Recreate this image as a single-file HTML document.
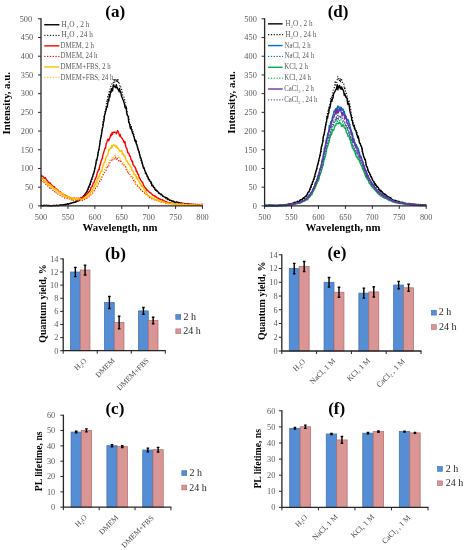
<!DOCTYPE html>
<html><head><meta charset="utf-8"><style>
html,body{margin:0;padding:0;background:#fff;}
svg{display:block;filter:blur(0.35px);}
text{font-family:"Liberation Serif", serif;}
</style></head><body>
<svg width="465" height="550" viewBox="0 0 465 550">
<rect width="465" height="550" fill="#fff"/>
<path d="M41.00,205.53 L41.54,205.46 L42.08,205.59 L42.62,205.73 L43.15,205.63 L43.69,205.75 L44.23,205.51 L44.77,205.22 L45.31,205.64 L45.84,205.67 L46.38,205.41 L46.92,205.44 L47.46,205.50 L48.00,205.74 L48.54,205.53 L49.08,205.37 L49.61,205.83 L50.15,205.63 L50.69,205.90 L51.23,205.82 L51.77,205.90 L52.30,205.58 L52.84,205.81 L53.38,205.45 L53.92,205.46 L54.46,205.52 L55.00,205.90 L55.53,205.56 L56.07,205.43 L56.61,205.36 L57.15,205.71 L57.69,205.44 L58.23,205.52 L58.77,205.45 L59.30,204.97 L59.84,205.37 L60.38,205.15 L60.92,204.89 L61.46,205.19 L62.00,205.04 L62.53,204.94 L63.07,204.90 L63.61,205.14 L64.15,204.75 L64.69,204.36 L65.22,204.96 L65.76,204.27 L66.30,204.34 L66.84,204.42 L67.38,203.65 L67.92,203.84 L68.45,204.21 L68.99,203.77 L69.53,203.51 L70.07,203.56 L70.61,203.20 L71.15,203.24 L71.69,202.89 L72.22,202.52 L72.76,202.90 L73.30,202.49 L73.84,202.48 L74.38,202.12 L74.91,202.28 L75.45,201.90 L75.99,201.57 L76.53,201.03 L77.07,200.70 L77.61,201.14 L78.15,200.72 L78.68,200.00 L79.22,200.47 L79.76,199.68 L80.30,199.22 L80.84,198.43 L81.38,198.20 L81.91,198.08 L82.45,197.59 L82.99,196.98 L83.53,195.76 L84.07,195.75 L84.60,194.98 L85.14,193.97 L85.68,193.33 L86.22,192.50 L86.76,191.93 L87.30,190.45 L87.84,189.48 L88.37,187.55 L88.91,186.44 L89.45,185.36 L89.99,183.58 L90.53,182.59 L91.06,180.33 L91.60,179.33 L92.14,177.38 L92.68,176.73 L93.22,173.92 L93.76,173.27 L94.30,171.52 L94.83,168.31 L95.37,166.57 L95.91,163.54 L96.45,159.58 L96.99,159.48 L97.53,156.77 L98.06,153.44 L98.60,150.46 L99.14,148.16 L99.68,145.10 L100.22,140.97 L100.75,137.80 L101.29,136.11 L101.83,131.78 L102.37,128.45 L102.91,126.70 L103.45,122.21 L103.98,120.73 L104.52,115.58 L105.06,113.85 L105.60,111.36 L106.14,109.80 L106.68,106.72 L107.22,107.05 L107.75,103.52 L108.29,99.13 L108.83,100.91 L109.37,94.58 L109.91,96.98 L110.44,91.48 L110.98,92.61 L111.52,88.80 L112.06,88.94 L112.60,90.93 L113.14,85.67 L113.67,84.72 L114.21,86.71 L114.75,86.73 L115.29,86.42 L115.83,87.88 L116.37,84.73 L116.91,87.88 L117.44,87.61 L117.98,89.44 L118.52,89.80 L119.06,91.63 L119.60,88.56 L120.14,92.03 L120.67,91.59 L121.21,94.48 L121.75,96.96 L122.29,97.78 L122.83,99.59 L123.36,100.26 L123.90,102.42 L124.44,103.97 L124.98,107.25 L125.52,108.23 L126.06,106.69 L126.59,112.00 L127.13,114.85 L127.67,115.49 L128.21,116.61 L128.75,122.56 L129.29,123.08 L129.82,125.42 L130.36,128.45 L130.90,127.15 L131.44,129.57 L131.98,130.96 L132.52,133.34 L133.06,133.48 L133.59,136.03 L134.13,137.12 L134.67,139.69 L135.21,141.39 L135.75,140.45 L136.28,143.89 L136.82,144.76 L137.36,146.74 L137.90,148.81 L138.44,150.60 L138.98,151.41 L139.51,154.12 L140.05,155.93 L140.59,157.71 L141.13,158.69 L141.67,160.85 L142.21,162.78 L142.75,165.15 L143.28,167.35 L143.82,167.33 L144.36,168.85 L144.90,171.00 L145.44,171.88 L145.97,172.97 L146.51,174.13 L147.05,175.22 L147.59,177.11 L148.13,177.05 L148.67,179.59 L149.20,179.41 L149.74,180.56 L150.28,181.27 L150.82,181.65 L151.36,182.71 L151.90,184.83 L152.44,185.88 L152.97,185.49 L153.51,187.10 L154.05,187.37 L154.59,187.71 L155.13,189.46 L155.67,190.28 L156.20,189.89 L156.74,190.54 L157.28,191.19 L157.82,191.58 L158.36,192.42 L158.89,193.13 L159.43,193.07 L159.97,193.80 L160.51,194.46 L161.05,194.08 L161.59,194.68 L162.12,194.90 L162.66,195.77 L163.20,196.03 L163.74,196.51 L164.28,196.84 L164.82,196.85 L165.36,197.54 L165.89,197.54 L166.43,197.91 L166.97,197.73 L167.51,199.15 L168.05,198.78 L168.58,199.39 L169.12,199.67 L169.66,200.38 L170.20,200.35 L170.74,200.23 L171.28,200.68 L171.81,200.83 L172.35,201.12 L172.89,200.88 L173.43,201.37 L173.97,202.13 L174.51,201.86 L175.04,202.34 L175.58,202.82 L176.12,202.21 L176.66,201.83 L177.20,202.29 L177.74,202.73 L178.28,202.78 L178.81,202.35 L179.35,202.71 L179.89,202.85 L180.43,202.99 L180.97,203.07 L181.50,202.98 L182.04,203.15 L182.58,203.34 L183.12,203.76 L183.66,203.46 L184.20,203.86 L184.74,203.50 L185.27,204.18 L185.81,203.98 L186.35,204.03 L186.89,204.43 L187.43,203.75 L187.97,203.88 L188.50,204.41 L189.04,204.17 L189.58,204.31 L190.12,205.08 L190.66,204.44 L191.19,204.56 L191.73,204.57 L192.27,204.89 L192.81,204.74 L193.35,204.76 L193.89,204.48 L194.43,204.72 L194.96,204.84 L195.50,204.52 L196.04,205.05 L196.58,205.04 L197.12,205.41 L197.66,204.64 L198.19,204.81 L198.73,204.85 L199.27,204.93 L199.81,205.08 L200.35,205.07 L200.88,205.19 L201.42,205.19 L201.96,205.14 L202.50,204.80" fill="none" stroke="#000" stroke-width="1.4" stroke-linejoin="round"/>
<path d="M41.00,205.38 L41.54,205.52 L42.08,205.64 L42.62,205.65 L43.15,205.14 L43.69,205.39 L44.23,205.49 L44.77,205.58 L45.31,205.76 L45.84,205.52 L46.38,205.30 L46.92,205.60 L47.46,205.56 L48.00,205.56 L48.54,205.48 L49.08,205.87 L49.61,205.56 L50.15,205.70 L50.69,205.30 L51.23,205.68 L51.77,205.37 L52.30,205.16 L52.84,205.58 L53.38,205.64 L53.92,205.46 L54.46,205.50 L55.00,205.72 L55.53,205.38 L56.07,205.01 L56.61,205.51 L57.15,205.48 L57.69,205.65 L58.23,205.31 L58.77,205.64 L59.30,205.57 L59.84,204.99 L60.38,205.46 L60.92,204.95 L61.46,204.81 L62.00,205.06 L62.53,204.94 L63.07,204.57 L63.61,205.02 L64.15,205.07 L64.69,205.20 L65.22,204.80 L65.76,204.37 L66.30,204.40 L66.84,204.75 L67.38,204.62 L67.92,204.42 L68.45,204.10 L68.99,204.10 L69.53,203.87 L70.07,203.72 L70.61,203.73 L71.15,203.52 L71.69,203.31 L72.22,203.22 L72.76,202.91 L73.30,202.37 L73.84,202.52 L74.38,202.47 L74.91,202.74 L75.45,201.97 L75.99,202.39 L76.53,202.02 L77.07,201.15 L77.61,200.94 L78.15,200.91 L78.68,201.08 L79.22,200.40 L79.76,200.18 L80.30,199.45 L80.84,198.60 L81.38,198.83 L81.91,198.74 L82.45,198.44 L82.99,197.60 L83.53,197.10 L84.07,196.81 L84.60,195.70 L85.14,195.41 L85.68,193.80 L86.22,192.96 L86.76,192.05 L87.30,191.71 L87.84,190.26 L88.37,189.36 L88.91,188.19 L89.45,186.79 L89.99,185.79 L90.53,184.34 L91.06,181.63 L91.60,180.49 L92.14,178.58 L92.68,176.41 L93.22,176.17 L93.76,173.66 L94.30,170.99 L94.83,168.67 L95.37,166.95 L95.91,163.60 L96.45,161.73 L96.99,160.27 L97.53,157.40 L98.06,153.18 L98.60,150.57 L99.14,149.76 L99.68,143.58 L100.22,140.89 L100.75,136.54 L101.29,134.72 L101.83,130.99 L102.37,128.38 L102.91,120.51 L103.45,120.53 L103.98,115.08 L104.52,114.87 L105.06,110.74 L105.60,110.36 L106.14,105.75 L106.68,101.08 L107.22,101.76 L107.75,95.67 L108.29,94.33 L108.83,94.23 L109.37,91.33 L109.91,89.45 L110.44,87.04 L110.98,86.25 L111.52,85.37 L112.06,83.42 L112.60,83.84 L113.14,83.53 L113.67,80.71 L114.21,78.54 L114.75,82.36 L115.29,79.56 L115.83,80.82 L116.37,81.71 L116.91,79.03 L117.44,82.00 L117.98,79.21 L118.52,83.81 L119.06,82.75 L119.60,84.96 L120.14,87.19 L120.67,86.45 L121.21,89.19 L121.75,89.47 L122.29,92.08 L122.83,95.34 L123.36,95.49 L123.90,97.04 L124.44,97.54 L124.98,102.28 L125.52,103.03 L126.06,107.64 L126.59,106.77 L127.13,111.86 L127.67,115.51 L128.21,115.76 L128.75,116.59 L129.29,121.94 L129.82,123.25 L130.36,124.58 L130.90,126.71 L131.44,126.56 L131.98,129.53 L132.52,131.02 L133.06,131.17 L133.59,134.31 L134.13,134.76 L134.67,138.01 L135.21,140.00 L135.75,142.38 L136.28,140.49 L136.82,144.47 L137.36,145.81 L137.90,147.99 L138.44,149.86 L138.98,152.06 L139.51,152.61 L140.05,157.15 L140.59,159.51 L141.13,160.92 L141.67,162.98 L142.21,163.24 L142.75,164.95 L143.28,167.87 L143.82,169.71 L144.36,170.46 L144.90,170.68 L145.44,174.61 L145.97,173.77 L146.51,175.92 L147.05,175.82 L147.59,178.13 L148.13,178.74 L148.67,180.41 L149.20,181.10 L149.74,180.82 L150.28,182.04 L150.82,183.55 L151.36,184.65 L151.90,185.98 L152.44,186.08 L152.97,186.70 L153.51,187.48 L154.05,188.20 L154.59,189.32 L155.13,189.50 L155.67,190.08 L156.20,190.10 L156.74,190.42 L157.28,191.74 L157.82,192.48 L158.36,192.69 L158.89,193.35 L159.43,193.84 L159.97,194.02 L160.51,194.80 L161.05,194.62 L161.59,195.29 L162.12,195.57 L162.66,196.12 L163.20,196.71 L163.74,197.18 L164.28,197.35 L164.82,197.84 L165.36,197.98 L165.89,198.42 L166.43,199.20 L166.97,199.10 L167.51,199.85 L168.05,199.93 L168.58,200.11 L169.12,200.87 L169.66,200.46 L170.20,200.64 L170.74,200.92 L171.28,201.18 L171.81,201.33 L172.35,201.66 L172.89,201.62 L173.43,201.84 L173.97,201.80 L174.51,202.29 L175.04,202.03 L175.58,202.18 L176.12,202.38 L176.66,202.58 L177.20,202.44 L177.74,203.14 L178.28,202.70 L178.81,202.88 L179.35,202.99 L179.89,203.07 L180.43,203.45 L180.97,203.46 L181.50,203.33 L182.04,203.49 L182.58,203.64 L183.12,204.17 L183.66,203.74 L184.20,203.67 L184.74,203.79 L185.27,204.06 L185.81,204.57 L186.35,204.02 L186.89,204.34 L187.43,204.97 L187.97,204.31 L188.50,204.82 L189.04,204.82 L189.58,204.71 L190.12,204.30 L190.66,204.74 L191.19,204.63 L191.73,204.33 L192.27,204.41 L192.81,204.85 L193.35,204.92 L193.89,205.20 L194.43,205.10 L194.96,204.87 L195.50,204.90 L196.04,205.00 L196.58,204.81 L197.12,205.25 L197.66,205.10 L198.19,204.93 L198.73,204.97 L199.27,204.86 L199.81,205.02 L200.35,205.18 L200.88,205.03 L201.42,205.35 L201.96,205.49 L202.50,204.97" fill="none" stroke="#000" stroke-width="1.2" stroke-linejoin="round" stroke-dasharray="0.2,2.6" stroke-linecap="round"/>
<path d="M41.00,175.25 L41.54,175.26 L42.08,176.71 L42.62,176.23 L43.15,176.69 L43.69,177.21 L44.23,178.42 L44.77,177.81 L45.31,177.67 L45.84,178.56 L46.38,179.73 L46.92,180.07 L47.46,180.33 L48.00,182.83 L48.54,182.11 L49.08,182.41 L49.61,182.94 L50.15,182.99 L50.69,183.79 L51.23,184.69 L51.77,185.19 L52.30,185.45 L52.84,186.54 L53.38,186.77 L53.92,186.81 L54.46,186.80 L55.00,188.18 L55.53,188.56 L56.07,188.88 L56.61,188.82 L57.15,189.82 L57.69,189.62 L58.23,191.04 L58.77,191.14 L59.30,191.57 L59.84,191.60 L60.38,191.92 L60.92,193.31 L61.46,193.48 L62.00,193.40 L62.53,194.14 L63.07,194.82 L63.61,194.24 L64.15,194.76 L64.69,195.07 L65.22,195.70 L65.76,195.44 L66.30,196.13 L66.84,195.93 L67.38,196.87 L67.92,197.11 L68.45,197.01 L68.99,197.56 L69.53,197.35 L70.07,197.71 L70.61,198.30 L71.15,198.17 L71.69,198.47 L72.22,198.22 L72.76,198.83 L73.30,198.85 L73.84,198.40 L74.38,198.10 L74.91,198.16 L75.45,198.74 L75.99,198.65 L76.53,198.18 L77.07,198.63 L77.61,198.81 L78.15,198.37 L78.68,198.16 L79.22,198.46 L79.76,198.60 L80.30,198.40 L80.84,197.59 L81.38,197.91 L81.91,197.55 L82.45,197.21 L82.99,196.81 L83.53,196.82 L84.07,196.18 L84.60,196.27 L85.14,195.67 L85.68,195.45 L86.22,194.19 L86.76,194.10 L87.30,193.83 L87.84,193.13 L88.37,192.51 L88.91,191.53 L89.45,191.72 L89.99,190.70 L90.53,189.55 L91.06,187.34 L91.60,186.99 L92.14,186.40 L92.68,184.89 L93.22,183.07 L93.76,183.00 L94.30,181.87 L94.83,179.81 L95.37,178.90 L95.91,177.42 L96.45,176.62 L96.99,173.64 L97.53,172.14 L98.06,171.19 L98.60,169.42 L99.14,169.54 L99.68,166.01 L100.22,164.88 L100.75,162.64 L101.29,160.54 L101.83,159.35 L102.37,158.43 L102.91,154.72 L103.45,153.66 L103.98,151.38 L104.52,149.80 L105.06,147.87 L105.60,148.21 L106.14,143.50 L106.68,143.15 L107.22,141.12 L107.75,139.11 L108.29,139.98 L108.83,140.77 L109.37,138.69 L109.91,137.80 L110.44,135.86 L110.98,134.17 L111.52,135.61 L112.06,132.55 L112.60,134.33 L113.14,132.09 L113.67,132.33 L114.21,132.39 L114.75,132.00 L115.29,132.44 L115.83,132.49 L116.37,133.79 L116.91,132.25 L117.44,130.64 L117.98,131.08 L118.52,132.47 L119.06,133.83 L119.60,136.00 L120.14,134.39 L120.67,136.60 L121.21,137.25 L121.75,138.15 L122.29,138.47 L122.83,139.79 L123.36,140.29 L123.90,142.25 L124.44,142.71 L124.98,141.57 L125.52,145.46 L126.06,147.28 L126.59,148.19 L127.13,149.51 L127.67,152.45 L128.21,152.92 L128.75,153.20 L129.29,154.96 L129.82,156.27 L130.36,156.31 L130.90,159.29 L131.44,159.89 L131.98,161.54 L132.52,161.21 L133.06,164.93 L133.59,165.15 L134.13,166.20 L134.67,166.52 L135.21,167.72 L135.75,168.34 L136.28,171.43 L136.82,171.05 L137.36,172.83 L137.90,174.16 L138.44,174.52 L138.98,176.48 L139.51,178.24 L140.05,178.39 L140.59,180.12 L141.13,180.76 L141.67,181.30 L142.21,182.38 L142.75,182.74 L143.28,184.56 L143.82,186.04 L144.36,186.48 L144.90,187.33 L145.44,188.21 L145.97,188.21 L146.51,189.38 L147.05,190.59 L147.59,190.11 L148.13,191.04 L148.67,191.40 L149.20,192.01 L149.74,192.29 L150.28,192.97 L150.82,192.96 L151.36,193.68 L151.90,194.10 L152.44,194.48 L152.97,195.51 L153.51,195.41 L154.05,195.78 L154.59,195.96 L155.13,196.82 L155.67,196.13 L156.20,196.95 L156.74,197.69 L157.28,198.15 L157.82,197.99 L158.36,198.23 L158.89,198.72 L159.43,198.76 L159.97,199.27 L160.51,199.19 L161.05,199.84 L161.59,199.90 L162.12,199.85 L162.66,199.64 L163.20,200.91 L163.74,200.97 L164.28,201.28 L164.82,201.01 L165.36,201.73 L165.89,201.71 L166.43,201.75 L166.97,202.18 L167.51,202.33 L168.05,202.36 L168.58,202.95 L169.12,202.92 L169.66,202.79 L170.20,202.78 L170.74,203.00 L171.28,203.53 L171.81,203.31 L172.35,203.09 L172.89,203.25 L173.43,203.49 L173.97,203.77 L174.51,203.45 L175.04,203.80 L175.58,203.99 L176.12,203.93 L176.66,203.40 L177.20,203.74 L177.74,203.54 L178.28,203.98 L178.81,203.66 L179.35,204.07 L179.89,203.98 L180.43,203.35 L180.97,203.80 L181.50,204.13 L182.04,204.05 L182.58,203.97 L183.12,203.77 L183.66,204.21 L184.20,204.54 L184.74,204.19 L185.27,204.14 L185.81,204.13 L186.35,203.85 L186.89,204.11 L187.43,204.01 L187.97,204.49 L188.50,204.02 L189.04,203.74 L189.58,204.08 L190.12,204.23 L190.66,204.27 L191.19,203.89 L191.73,204.57 L192.27,204.39 L192.81,204.27 L193.35,204.22 L193.89,204.53 L194.43,204.37 L194.96,204.54 L195.50,204.46 L196.04,204.55 L196.58,204.81 L197.12,204.56 L197.66,204.37 L198.19,204.83 L198.73,204.68 L199.27,204.49 L199.81,204.92 L200.35,204.65 L200.88,204.96 L201.42,204.46 L201.96,204.20 L202.50,204.30" fill="none" stroke="#FF0000" stroke-width="1.4" stroke-linejoin="round"/>
<path d="M41.00,180.57 L41.54,180.53 L42.08,181.31 L42.62,181.77 L43.15,181.49 L43.69,183.39 L44.23,182.65 L44.77,183.65 L45.31,183.38 L45.84,184.41 L46.38,185.26 L46.92,185.25 L47.46,185.47 L48.00,186.22 L48.54,186.45 L49.08,187.33 L49.61,188.47 L50.15,187.54 L50.69,188.05 L51.23,188.72 L51.77,189.17 L52.30,189.18 L52.84,190.22 L53.38,190.74 L53.92,190.93 L54.46,190.78 L55.00,192.21 L55.53,191.58 L56.07,192.68 L56.61,193.23 L57.15,192.70 L57.69,193.58 L58.23,194.40 L58.77,194.43 L59.30,194.35 L59.84,194.64 L60.38,195.59 L60.92,195.67 L61.46,195.93 L62.00,196.75 L62.53,196.75 L63.07,197.19 L63.61,197.66 L64.15,197.92 L64.69,197.98 L65.22,198.22 L65.76,198.59 L66.30,198.72 L66.84,198.41 L67.38,198.86 L67.92,198.83 L68.45,198.89 L68.99,199.23 L69.53,198.88 L70.07,199.94 L70.61,199.58 L71.15,200.03 L71.69,199.49 L72.22,199.62 L72.76,200.77 L73.30,200.53 L73.84,200.08 L74.38,200.06 L74.91,200.07 L75.45,200.31 L75.99,200.15 L76.53,200.10 L77.07,200.31 L77.61,199.99 L78.15,200.95 L78.68,200.10 L79.22,200.59 L79.76,200.01 L80.30,200.35 L80.84,200.55 L81.38,200.18 L81.91,200.53 L82.45,200.45 L82.99,200.52 L83.53,199.91 L84.07,199.55 L84.60,199.16 L85.14,199.25 L85.68,198.60 L86.22,198.61 L86.76,198.33 L87.30,197.79 L87.84,197.29 L88.37,197.41 L88.91,197.00 L89.45,196.53 L89.99,195.95 L90.53,195.74 L91.06,194.45 L91.60,194.32 L92.14,193.32 L92.68,193.10 L93.22,191.92 L93.76,191.16 L94.30,190.74 L94.83,188.97 L95.37,188.87 L95.91,187.41 L96.45,186.88 L96.99,186.68 L97.53,185.61 L98.06,184.24 L98.60,183.42 L99.14,182.43 L99.68,181.60 L100.22,181.41 L100.75,179.57 L101.29,179.63 L101.83,177.12 L102.37,176.67 L102.91,175.59 L103.45,174.21 L103.98,172.84 L104.52,172.86 L105.06,172.07 L105.60,170.68 L106.14,170.38 L106.68,168.69 L107.22,165.95 L107.75,166.82 L108.29,164.67 L108.83,165.23 L109.37,163.17 L109.91,162.86 L110.44,161.99 L110.98,160.94 L111.52,159.50 L112.06,160.17 L112.60,159.72 L113.14,160.12 L113.67,158.50 L114.21,158.85 L114.75,157.79 L115.29,158.41 L115.83,157.06 L116.37,160.18 L116.91,159.11 L117.44,158.52 L117.98,159.88 L118.52,160.66 L119.06,160.70 L119.60,161.99 L120.14,161.28 L120.67,159.96 L121.21,161.40 L121.75,163.57 L122.29,163.92 L122.83,164.14 L123.36,163.73 L123.90,165.70 L124.44,166.37 L124.98,166.18 L125.52,167.19 L126.06,169.06 L126.59,170.54 L127.13,171.73 L127.67,172.02 L128.21,173.80 L128.75,172.75 L129.29,174.39 L129.82,174.50 L130.36,174.46 L130.90,175.66 L131.44,177.76 L131.98,177.36 L132.52,177.95 L133.06,179.73 L133.59,180.57 L134.13,180.87 L134.67,182.40 L135.21,181.63 L135.75,184.41 L136.28,184.61 L136.82,185.05 L137.36,185.84 L137.90,186.43 L138.44,187.07 L138.98,187.91 L139.51,187.90 L140.05,189.86 L140.59,189.47 L141.13,190.28 L141.67,190.42 L142.21,190.87 L142.75,191.81 L143.28,192.18 L143.82,192.12 L144.36,192.81 L144.90,193.73 L145.44,193.27 L145.97,193.72 L146.51,195.60 L147.05,195.49 L147.59,195.22 L148.13,196.26 L148.67,196.86 L149.20,197.36 L149.74,197.79 L150.28,197.99 L150.82,198.38 L151.36,198.25 L151.90,198.87 L152.44,199.14 L152.97,199.61 L153.51,199.48 L154.05,199.95 L154.59,199.95 L155.13,199.79 L155.67,200.19 L156.20,200.33 L156.74,200.56 L157.28,200.82 L157.82,201.05 L158.36,201.27 L158.89,201.14 L159.43,201.81 L159.97,201.30 L160.51,201.82 L161.05,202.18 L161.59,202.25 L162.12,202.43 L162.66,202.34 L163.20,202.69 L163.74,202.31 L164.28,202.93 L164.82,203.41 L165.36,203.10 L165.89,203.51 L166.43,203.08 L166.97,202.87 L167.51,203.06 L168.05,203.64 L168.58,203.56 L169.12,202.98 L169.66,203.41 L170.20,203.55 L170.74,203.35 L171.28,203.05 L171.81,203.40 L172.35,203.74 L172.89,203.74 L173.43,203.72 L173.97,204.07 L174.51,204.22 L175.04,203.98 L175.58,204.26 L176.12,204.08 L176.66,204.07 L177.20,203.56 L177.74,204.38 L178.28,204.23 L178.81,204.28 L179.35,204.16 L179.89,204.05 L180.43,204.46 L180.97,204.57 L181.50,204.80 L182.04,204.66 L182.58,204.34 L183.12,204.49 L183.66,204.77 L184.20,204.65 L184.74,204.58 L185.27,204.50 L185.81,204.79 L186.35,204.74 L186.89,205.14 L187.43,205.01 L187.97,204.37 L188.50,205.30 L189.04,204.89 L189.58,204.78 L190.12,204.95 L190.66,205.07 L191.19,204.92 L191.73,204.93 L192.27,204.96 L192.81,205.41 L193.35,205.02 L193.89,205.20 L194.43,205.15 L194.96,204.98 L195.50,204.90 L196.04,204.85 L196.58,205.19 L197.12,204.87 L197.66,204.83 L198.19,204.85 L198.73,204.80 L199.27,205.16 L199.81,205.18 L200.35,204.95 L200.88,205.47 L201.42,205.10 L201.96,205.27 L202.50,205.24" fill="none" stroke="#FF0000" stroke-width="1.2" stroke-linejoin="round" stroke-dasharray="0.2,2.6" stroke-linecap="round"/>
<path d="M41.00,178.81 L41.54,178.79 L42.08,178.76 L42.62,178.72 L43.15,179.13 L43.69,180.15 L44.23,180.66 L44.77,181.44 L45.31,181.24 L45.84,182.01 L46.38,182.01 L46.92,181.88 L47.46,183.21 L48.00,184.36 L48.54,184.47 L49.08,185.18 L49.61,185.47 L50.15,184.70 L50.69,185.63 L51.23,186.86 L51.77,186.28 L52.30,186.43 L52.84,187.57 L53.38,188.13 L53.92,188.38 L54.46,188.52 L55.00,188.76 L55.53,188.93 L56.07,189.31 L56.61,189.70 L57.15,190.00 L57.69,190.65 L58.23,191.90 L58.77,191.70 L59.30,191.89 L59.84,192.52 L60.38,192.38 L60.92,193.22 L61.46,193.77 L62.00,193.23 L62.53,193.85 L63.07,194.33 L63.61,194.38 L64.15,194.63 L64.69,195.17 L65.22,196.41 L65.76,196.03 L66.30,196.19 L66.84,196.61 L67.38,196.46 L67.92,196.37 L68.45,197.16 L68.99,197.61 L69.53,196.80 L70.07,197.82 L70.61,198.27 L71.15,197.99 L71.69,198.10 L72.22,198.61 L72.76,198.28 L73.30,198.79 L73.84,199.01 L74.38,198.73 L74.91,198.60 L75.45,199.08 L75.99,198.83 L76.53,199.00 L77.07,198.14 L77.61,199.26 L78.15,198.65 L78.68,199.11 L79.22,199.16 L79.76,198.92 L80.30,198.88 L80.84,198.77 L81.38,199.06 L81.91,199.32 L82.45,199.20 L82.99,198.73 L83.53,198.51 L84.07,198.00 L84.60,198.02 L85.14,197.49 L85.68,196.98 L86.22,197.04 L86.76,197.19 L87.30,196.68 L87.84,196.35 L88.37,194.86 L88.91,195.24 L89.45,193.90 L89.99,193.46 L90.53,192.27 L91.06,191.70 L91.60,191.25 L92.14,190.37 L92.68,189.29 L93.22,188.26 L93.76,187.57 L94.30,186.34 L94.83,184.56 L95.37,185.12 L95.91,183.08 L96.45,182.54 L96.99,180.81 L97.53,179.24 L98.06,178.49 L98.60,176.75 L99.14,176.84 L99.68,173.97 L100.22,173.72 L100.75,171.64 L101.29,170.57 L101.83,171.03 L102.37,168.43 L102.91,166.34 L103.45,163.96 L103.98,163.44 L104.52,162.05 L105.06,161.94 L105.60,158.38 L106.14,156.68 L106.68,156.67 L107.22,155.47 L107.75,155.31 L108.29,151.94 L108.83,149.27 L109.37,150.01 L109.91,148.48 L110.44,148.12 L110.98,148.59 L111.52,145.62 L112.06,147.39 L112.60,146.00 L113.14,145.39 L113.67,144.83 L114.21,145.31 L114.75,145.39 L115.29,146.55 L115.83,147.14 L116.37,145.97 L116.91,146.92 L117.44,147.91 L117.98,148.45 L118.52,148.41 L119.06,150.39 L119.60,150.66 L120.14,151.61 L120.67,150.65 L121.21,151.16 L121.75,150.50 L122.29,154.28 L122.83,154.34 L123.36,153.79 L123.90,155.56 L124.44,156.52 L124.98,155.79 L125.52,158.39 L126.06,160.00 L126.59,161.08 L127.13,160.74 L127.67,161.68 L128.21,163.83 L128.75,164.44 L129.29,164.23 L129.82,165.11 L130.36,166.88 L130.90,166.93 L131.44,167.91 L131.98,170.44 L132.52,170.42 L133.06,170.92 L133.59,172.52 L134.13,174.45 L134.67,174.26 L135.21,174.62 L135.75,175.13 L136.28,178.30 L136.82,176.57 L137.36,179.61 L137.90,179.42 L138.44,180.18 L138.98,181.18 L139.51,182.44 L140.05,183.90 L140.59,183.81 L141.13,185.23 L141.67,186.83 L142.21,185.11 L142.75,186.85 L143.28,187.12 L143.82,189.08 L144.36,188.86 L144.90,189.66 L145.44,190.55 L145.97,192.05 L146.51,193.34 L147.05,193.76 L147.59,195.24 L148.13,195.72 L148.67,195.67 L149.20,196.51 L149.74,196.62 L150.28,196.96 L150.82,196.63 L151.36,197.15 L151.90,197.88 L152.44,197.75 L152.97,198.64 L153.51,198.74 L154.05,198.58 L154.59,199.46 L155.13,199.38 L155.67,199.90 L156.20,199.67 L156.74,199.43 L157.28,200.34 L157.82,200.25 L158.36,200.77 L158.89,201.03 L159.43,201.24 L159.97,200.66 L160.51,200.58 L161.05,201.28 L161.59,201.78 L162.12,201.55 L162.66,201.98 L163.20,201.82 L163.74,202.09 L164.28,202.22 L164.82,202.26 L165.36,202.69 L165.89,202.75 L166.43,203.19 L166.97,202.96 L167.51,203.32 L168.05,203.08 L168.58,203.38 L169.12,203.20 L169.66,203.20 L170.20,203.77 L170.74,203.69 L171.28,203.80 L171.81,203.45 L172.35,203.28 L172.89,203.56 L173.43,203.92 L173.97,203.53 L174.51,204.32 L175.04,203.62 L175.58,204.19 L176.12,204.75 L176.66,203.45 L177.20,203.75 L177.74,204.43 L178.28,204.17 L178.81,204.30 L179.35,204.26 L179.89,204.68 L180.43,204.52 L180.97,204.28 L181.50,204.37 L182.04,204.17 L182.58,204.47 L183.12,203.95 L183.66,204.72 L184.20,204.52 L184.74,205.07 L185.27,204.94 L185.81,204.35 L186.35,204.92 L186.89,204.60 L187.43,204.77 L187.97,205.03 L188.50,204.89 L189.04,204.95 L189.58,204.97 L190.12,204.70 L190.66,204.74 L191.19,205.06 L191.73,205.15 L192.27,204.89 L192.81,205.00 L193.35,204.75 L193.89,204.39 L194.43,204.83 L194.96,205.05 L195.50,205.10 L196.04,205.27 L196.58,205.30 L197.12,205.33 L197.66,205.20 L198.19,205.22 L198.73,204.95 L199.27,205.22 L199.81,205.18 L200.35,205.43 L200.88,204.76 L201.42,205.03 L201.96,204.73 L202.50,204.97" fill="none" stroke="#FFC000" stroke-width="1.4" stroke-linejoin="round"/>
<path d="M41.00,178.14 L41.54,179.59 L42.08,179.56 L42.62,178.99 L43.15,181.55 L43.69,180.78 L44.23,180.99 L44.77,182.12 L45.31,182.41 L45.84,182.62 L46.38,184.05 L46.92,183.97 L47.46,185.05 L48.00,185.40 L48.54,185.81 L49.08,186.02 L49.61,186.32 L50.15,186.61 L50.69,187.89 L51.23,186.77 L51.77,187.57 L52.30,188.19 L52.84,189.09 L53.38,189.38 L53.92,189.51 L54.46,189.97 L55.00,191.25 L55.53,190.62 L56.07,190.12 L56.61,192.44 L57.15,191.66 L57.69,192.27 L58.23,192.83 L58.77,192.63 L59.30,193.98 L59.84,193.83 L60.38,193.71 L60.92,194.69 L61.46,195.12 L62.00,195.26 L62.53,195.79 L63.07,195.41 L63.61,196.57 L64.15,196.24 L64.69,197.24 L65.22,196.84 L65.76,197.33 L66.30,198.38 L66.84,197.74 L67.38,198.32 L67.92,198.34 L68.45,197.92 L68.99,198.99 L69.53,199.18 L70.07,198.59 L70.61,199.19 L71.15,198.91 L71.69,199.44 L72.22,199.94 L72.76,199.79 L73.30,199.47 L73.84,199.61 L74.38,199.91 L74.91,199.90 L75.45,199.95 L75.99,200.09 L76.53,199.32 L77.07,199.91 L77.61,200.26 L78.15,200.06 L78.68,199.69 L79.22,199.72 L79.76,199.95 L80.30,200.12 L80.84,199.91 L81.38,200.42 L81.91,200.28 L82.45,199.55 L82.99,199.81 L83.53,199.36 L84.07,198.87 L84.60,198.78 L85.14,198.69 L85.68,197.68 L86.22,197.81 L86.76,197.79 L87.30,197.05 L87.84,196.78 L88.37,196.84 L88.91,196.10 L89.45,195.69 L89.99,195.79 L90.53,194.52 L91.06,193.90 L91.60,193.25 L92.14,192.98 L92.68,191.69 L93.22,190.77 L93.76,189.90 L94.30,189.62 L94.83,188.03 L95.37,188.03 L95.91,186.70 L96.45,185.04 L96.99,185.05 L97.53,183.98 L98.06,182.15 L98.60,181.89 L99.14,180.81 L99.68,179.49 L100.22,177.99 L100.75,178.81 L101.29,176.94 L101.83,175.95 L102.37,174.88 L102.91,173.62 L103.45,172.49 L103.98,170.64 L104.52,170.36 L105.06,168.64 L105.60,167.45 L106.14,167.27 L106.68,165.66 L107.22,163.55 L107.75,163.53 L108.29,163.30 L108.83,161.95 L109.37,161.78 L109.91,160.10 L110.44,158.97 L110.98,159.78 L111.52,158.82 L112.06,157.28 L112.60,158.16 L113.14,157.19 L113.67,157.85 L114.21,157.42 L114.75,156.99 L115.29,154.73 L115.83,156.89 L116.37,157.13 L116.91,157.38 L117.44,157.34 L117.98,157.02 L118.52,157.77 L119.06,156.68 L119.60,158.55 L120.14,157.99 L120.67,159.34 L121.21,159.58 L121.75,161.71 L122.29,161.30 L122.83,161.90 L123.36,162.71 L123.90,164.83 L124.44,163.40 L124.98,165.22 L125.52,166.23 L126.06,167.10 L126.59,168.07 L127.13,168.58 L127.67,170.58 L128.21,171.22 L128.75,171.29 L129.29,172.24 L129.82,173.41 L130.36,174.36 L130.90,175.34 L131.44,175.70 L131.98,175.79 L132.52,177.87 L133.06,177.22 L133.59,178.40 L134.13,179.90 L134.67,180.04 L135.21,182.04 L135.75,183.00 L136.28,183.60 L136.82,183.99 L137.36,184.76 L137.90,185.61 L138.44,186.02 L138.98,187.69 L139.51,187.12 L140.05,188.56 L140.59,188.79 L141.13,189.23 L141.67,190.08 L142.21,190.69 L142.75,191.05 L143.28,191.17 L143.82,191.45 L144.36,191.99 L144.90,193.12 L145.44,193.57 L145.97,194.15 L146.51,194.16 L147.05,195.56 L147.59,194.87 L148.13,195.92 L148.67,196.44 L149.20,196.43 L149.74,196.55 L150.28,197.11 L150.82,197.20 L151.36,197.81 L151.90,197.76 L152.44,198.04 L152.97,198.74 L153.51,198.52 L154.05,199.17 L154.59,199.43 L155.13,199.95 L155.67,199.98 L156.20,199.87 L156.74,200.67 L157.28,200.28 L157.82,200.54 L158.36,200.74 L158.89,201.60 L159.43,201.17 L159.97,201.11 L160.51,201.65 L161.05,201.55 L161.59,202.37 L162.12,201.66 L162.66,202.15 L163.20,201.86 L163.74,202.70 L164.28,202.14 L164.82,202.49 L165.36,202.32 L165.89,202.88 L166.43,202.90 L166.97,202.25 L167.51,203.15 L168.05,203.21 L168.58,203.19 L169.12,203.48 L169.66,203.00 L170.20,202.95 L170.74,203.65 L171.28,203.99 L171.81,203.33 L172.35,203.42 L172.89,203.56 L173.43,203.54 L173.97,204.10 L174.51,203.98 L175.04,204.33 L175.58,204.38 L176.12,203.83 L176.66,204.27 L177.20,203.58 L177.74,204.16 L178.28,204.37 L178.81,204.06 L179.35,203.85 L179.89,204.20 L180.43,204.65 L180.97,204.30 L181.50,204.09 L182.04,204.58 L182.58,204.68 L183.12,204.28 L183.66,204.52 L184.20,204.85 L184.74,204.70 L185.27,204.82 L185.81,204.60 L186.35,204.67 L186.89,204.45 L187.43,204.58 L187.97,205.15 L188.50,204.71 L189.04,204.62 L189.58,204.74 L190.12,204.63 L190.66,205.03 L191.19,205.14 L191.73,204.72 L192.27,205.21 L192.81,205.49 L193.35,204.75 L193.89,205.18 L194.43,205.10 L194.96,205.37 L195.50,205.37 L196.04,205.34 L196.58,205.17 L197.12,205.01 L197.66,205.64 L198.19,204.94 L198.73,205.40 L199.27,205.38 L199.81,204.98 L200.35,205.16 L200.88,205.51 L201.42,204.72 L201.96,205.35 L202.50,205.09" fill="none" stroke="#FFC000" stroke-width="1.2" stroke-linejoin="round" stroke-dasharray="0.2,2.6" stroke-linecap="round"/>
<path d="M41.00,18.30 V205.90 H203.00" fill="none" stroke="#262626" stroke-width="1.3"/>
<line x1="38.00" y1="205.90" x2="41.00" y2="205.90" stroke="#262626" stroke-width="1"/>
<text x="33.20" y="208.70" font-size="8.3" font-weight="normal" fill="#595959" text-anchor="end">0</text>
<line x1="38.00" y1="187.19" x2="41.00" y2="187.19" stroke="#262626" stroke-width="1"/>
<text x="33.20" y="189.99" font-size="8.3" font-weight="normal" fill="#595959" text-anchor="end">50</text>
<line x1="38.00" y1="168.48" x2="41.00" y2="168.48" stroke="#262626" stroke-width="1"/>
<text x="33.20" y="171.28" font-size="8.3" font-weight="normal" fill="#595959" text-anchor="end">100</text>
<line x1="38.00" y1="149.77" x2="41.00" y2="149.77" stroke="#262626" stroke-width="1"/>
<text x="33.20" y="152.57" font-size="8.3" font-weight="normal" fill="#595959" text-anchor="end">150</text>
<line x1="38.00" y1="131.06" x2="41.00" y2="131.06" stroke="#262626" stroke-width="1"/>
<text x="33.20" y="133.86" font-size="8.3" font-weight="normal" fill="#595959" text-anchor="end">200</text>
<line x1="38.00" y1="112.35" x2="41.00" y2="112.35" stroke="#262626" stroke-width="1"/>
<text x="33.20" y="115.15" font-size="8.3" font-weight="normal" fill="#595959" text-anchor="end">250</text>
<line x1="38.00" y1="93.64" x2="41.00" y2="93.64" stroke="#262626" stroke-width="1"/>
<text x="33.20" y="96.44" font-size="8.3" font-weight="normal" fill="#595959" text-anchor="end">300</text>
<line x1="38.00" y1="74.93" x2="41.00" y2="74.93" stroke="#262626" stroke-width="1"/>
<text x="33.20" y="77.73" font-size="8.3" font-weight="normal" fill="#595959" text-anchor="end">350</text>
<line x1="38.00" y1="56.22" x2="41.00" y2="56.22" stroke="#262626" stroke-width="1"/>
<text x="33.20" y="59.02" font-size="8.3" font-weight="normal" fill="#595959" text-anchor="end">400</text>
<line x1="38.00" y1="37.51" x2="41.00" y2="37.51" stroke="#262626" stroke-width="1"/>
<text x="33.20" y="40.31" font-size="8.3" font-weight="normal" fill="#595959" text-anchor="end">450</text>
<line x1="38.00" y1="18.80" x2="41.00" y2="18.80" stroke="#262626" stroke-width="1"/>
<text x="32.10" y="21.80" font-size="8.3" font-weight="normal" fill="#595959" text-anchor="end">500</text>
<line x1="41.00" y1="205.90" x2="41.00" y2="208.90" stroke="#262626" stroke-width="1"/>
<text x="41.00" y="219.50" font-size="8.3" font-weight="normal" fill="#595959" text-anchor="middle">500</text>
<line x1="67.92" y1="205.90" x2="67.92" y2="208.90" stroke="#262626" stroke-width="1"/>
<text x="67.92" y="219.50" font-size="8.3" font-weight="normal" fill="#595959" text-anchor="middle">550</text>
<line x1="94.83" y1="205.90" x2="94.83" y2="208.90" stroke="#262626" stroke-width="1"/>
<text x="94.83" y="219.50" font-size="8.3" font-weight="normal" fill="#595959" text-anchor="middle">600</text>
<line x1="121.75" y1="205.90" x2="121.75" y2="208.90" stroke="#262626" stroke-width="1"/>
<text x="121.75" y="219.50" font-size="8.3" font-weight="normal" fill="#595959" text-anchor="middle">650</text>
<line x1="148.67" y1="205.90" x2="148.67" y2="208.90" stroke="#262626" stroke-width="1"/>
<text x="148.67" y="219.50" font-size="8.3" font-weight="normal" fill="#595959" text-anchor="middle">700</text>
<line x1="175.58" y1="205.90" x2="175.58" y2="208.90" stroke="#262626" stroke-width="1"/>
<text x="175.58" y="219.50" font-size="8.3" font-weight="normal" fill="#595959" text-anchor="middle">750</text>
<line x1="202.50" y1="205.90" x2="202.50" y2="208.90" stroke="#262626" stroke-width="1"/>
<text x="202.50" y="219.50" font-size="8.3" font-weight="normal" fill="#595959" text-anchor="middle">800</text>
<line x1="44.20" y1="24.75" x2="59.40" y2="24.75" stroke="#000" stroke-width="1.4"/>
<text x="61.60" y="26.80" font-size="7.5" font-weight="normal" fill="#595959" text-anchor="start" textLength="27.7" lengthAdjust="spacingAndGlyphs">H<tspan font-size="5" dy="1.8">2</tspan><tspan dy="-1.8">O , </tspan>2 h</text>
<line x1="44.80" y1="35.31" x2="59.40" y2="35.31" stroke="#000" stroke-width="1.2" stroke-dasharray="0.2,2.6" stroke-linecap="round"/>
<text x="61.60" y="37.36" font-size="7.5" font-weight="normal" fill="#595959" text-anchor="start" textLength="31.2" lengthAdjust="spacingAndGlyphs">H<tspan font-size="5" dy="1.8">2</tspan><tspan dy="-1.8">O , </tspan>24 h</text>
<line x1="44.20" y1="45.87" x2="59.40" y2="45.87" stroke="#FF0000" stroke-width="1.4"/>
<text x="60.60" y="47.92" font-size="7.5" font-weight="normal" fill="#595959" text-anchor="start" textLength="33.3" lengthAdjust="spacingAndGlyphs">DMEM, 2 h</text>
<line x1="44.80" y1="56.43" x2="59.40" y2="56.43" stroke="#FF0000" stroke-width="1.2" stroke-dasharray="0.2,2.6" stroke-linecap="round"/>
<text x="60.60" y="58.48" font-size="7.5" font-weight="normal" fill="#595959" text-anchor="start" textLength="36.9" lengthAdjust="spacingAndGlyphs">DMEM, 24 h</text>
<line x1="44.20" y1="66.99" x2="59.40" y2="66.99" stroke="#FFC000" stroke-width="1.4"/>
<text x="60.60" y="69.04" font-size="7.5" font-weight="normal" fill="#595959" text-anchor="start" textLength="50.1" lengthAdjust="spacingAndGlyphs">DMEM+FBS, 2 h</text>
<line x1="44.80" y1="77.55" x2="59.40" y2="77.55" stroke="#FFC000" stroke-width="1.2" stroke-dasharray="0.2,2.6" stroke-linecap="round"/>
<text x="60.60" y="79.60" font-size="7.5" font-weight="normal" fill="#595959" text-anchor="start" textLength="52.9" lengthAdjust="spacingAndGlyphs">DMEM+FBS, 24 h</text>
<text x="115.20" y="17.10" font-size="17" font-weight="bold" fill="#000" text-anchor="middle">(a)</text>
<text x="120.10" y="230.70" font-size="10.7" font-weight="bold" fill="#000" text-anchor="middle" textLength="75" lengthAdjust="spacingAndGlyphs">Wavelength, nm</text>
<text transform="translate(10.40,103.30) rotate(-90)" font-size="10.7" font-weight="bold" fill="#000" text-anchor="middle" textLength="62.5" lengthAdjust="spacingAndGlyphs">Intensity, a.u.</text>
<path d="M264.60,205.48 L265.14,205.20 L265.68,205.63 L266.22,205.29 L266.75,205.70 L267.29,205.27 L267.83,205.70 L268.37,205.61 L268.91,205.09 L269.45,205.45 L269.99,205.50 L270.53,205.01 L271.06,205.44 L271.60,205.71 L272.14,205.36 L272.68,205.80 L273.22,205.27 L273.76,205.25 L274.30,205.66 L274.83,205.66 L275.37,205.47 L275.91,205.49 L276.45,205.71 L276.99,205.33 L277.53,205.90 L278.07,205.52 L278.61,205.48 L279.14,205.42 L279.68,205.26 L280.22,205.58 L280.76,205.12 L281.30,205.26 L281.84,205.33 L282.38,205.46 L282.91,205.38 L283.45,204.97 L283.99,205.24 L284.53,204.95 L285.07,204.66 L285.61,204.60 L286.15,204.40 L286.69,204.75 L287.22,204.85 L287.76,204.23 L288.30,204.30 L288.84,203.99 L289.38,204.14 L289.92,203.73 L290.46,203.70 L290.99,203.61 L291.53,203.53 L292.07,203.42 L292.61,203.31 L293.15,203.16 L293.69,202.81 L294.23,203.03 L294.77,202.27 L295.30,202.57 L295.84,202.09 L296.38,202.18 L296.92,202.02 L297.46,201.18 L298.00,201.60 L298.54,201.64 L299.07,201.23 L299.61,200.86 L300.15,199.86 L300.69,200.13 L301.23,199.60 L301.77,199.85 L302.31,199.08 L302.85,198.61 L303.38,197.85 L303.92,198.19 L304.46,197.27 L305.00,196.80 L305.54,196.62 L306.08,195.61 L306.62,194.97 L307.15,194.95 L307.69,193.06 L308.23,192.22 L308.77,191.67 L309.31,190.99 L309.85,188.67 L310.39,187.94 L310.93,186.28 L311.46,184.69 L312.00,184.16 L312.54,182.00 L313.08,181.01 L313.62,179.37 L314.16,177.76 L314.70,175.97 L315.23,173.46 L315.77,172.13 L316.31,170.29 L316.85,168.29 L317.39,165.69 L317.93,164.32 L318.47,161.67 L319.01,159.16 L319.54,157.34 L320.08,154.68 L320.62,152.74 L321.16,147.97 L321.70,145.92 L322.24,143.96 L322.78,141.59 L323.31,136.35 L323.85,135.32 L324.39,132.83 L324.93,129.53 L325.47,126.77 L326.01,122.81 L326.55,121.97 L327.09,116.77 L327.62,118.09 L328.16,113.62 L328.70,113.56 L329.24,107.47 L329.78,108.28 L330.32,105.77 L330.86,102.25 L331.39,99.73 L331.93,101.34 L332.47,98.19 L333.01,98.04 L333.55,94.03 L334.09,92.84 L334.63,91.82 L335.17,91.16 L335.70,89.78 L336.24,89.63 L336.78,86.85 L337.32,84.60 L337.86,89.80 L338.40,86.47 L338.94,86.85 L339.47,85.44 L340.01,88.13 L340.55,87.23 L341.09,89.24 L341.63,87.00 L342.17,88.61 L342.71,89.82 L343.25,89.98 L343.78,92.18 L344.32,95.56 L344.86,93.57 L345.40,95.44 L345.94,97.52 L346.48,97.25 L347.02,98.45 L347.55,103.48 L348.09,104.67 L348.63,103.06 L349.17,105.09 L349.71,110.01 L350.25,112.69 L350.79,114.29 L351.33,116.58 L351.86,120.43 L352.40,120.71 L352.94,124.39 L353.48,126.11 L354.02,125.30 L354.56,128.79 L355.10,129.63 L355.63,130.33 L356.17,131.61 L356.71,134.34 L357.25,135.40 L357.79,137.83 L358.33,136.74 L358.87,139.50 L359.41,142.87 L359.94,143.40 L360.48,144.36 L361.02,146.26 L361.56,146.73 L362.10,148.92 L362.64,152.43 L363.18,153.94 L363.71,156.86 L364.25,157.53 L364.79,159.48 L365.33,159.32 L365.87,162.99 L366.41,166.25 L366.95,166.86 L367.49,167.90 L368.02,170.32 L368.56,171.47 L369.10,172.45 L369.64,173.24 L370.18,174.72 L370.72,176.28 L371.26,176.40 L371.79,178.20 L372.33,179.18 L372.87,180.62 L373.41,181.23 L373.95,181.39 L374.49,183.41 L375.03,183.48 L375.57,183.93 L376.10,185.26 L376.64,185.76 L377.18,187.14 L377.72,186.78 L378.26,187.59 L378.80,188.65 L379.34,190.13 L379.87,190.43 L380.41,190.16 L380.95,190.40 L381.49,191.48 L382.03,191.60 L382.57,192.79 L383.11,193.07 L383.65,193.44 L384.18,193.70 L384.72,194.82 L385.26,194.32 L385.80,194.58 L386.34,195.83 L386.88,196.27 L387.42,196.05 L387.95,196.76 L388.49,197.70 L389.03,197.02 L389.57,197.60 L390.11,198.17 L390.65,197.70 L391.19,198.67 L391.73,199.28 L392.26,199.34 L392.80,199.98 L393.34,200.18 L393.88,200.10 L394.42,200.61 L394.96,200.79 L395.50,200.38 L396.03,200.79 L396.57,200.98 L397.11,201.22 L397.65,201.39 L398.19,201.26 L398.73,201.81 L399.27,201.43 L399.81,202.32 L400.34,202.25 L400.88,202.67 L401.42,202.51 L401.96,202.39 L402.50,202.26 L403.04,202.93 L403.58,202.86 L404.11,203.07 L404.65,203.27 L405.19,203.49 L405.73,203.28 L406.27,203.84 L406.81,203.47 L407.35,203.59 L407.89,203.85 L408.42,204.03 L408.96,204.21 L409.50,203.48 L410.04,204.36 L410.58,203.72 L411.12,204.02 L411.66,204.33 L412.19,204.58 L412.73,204.10 L413.27,203.98 L413.81,204.68 L414.35,204.57 L414.89,204.29 L415.43,204.51 L415.97,204.15 L416.50,204.81 L417.04,204.59 L417.58,205.06 L418.12,204.31 L418.66,205.02 L419.20,205.40 L419.74,204.95 L420.27,204.98 L420.81,204.53 L421.35,205.09 L421.89,205.04 L422.43,204.93 L422.97,204.71 L423.51,205.12 L424.05,204.88 L424.58,205.01 L425.12,205.21 L425.66,205.13 L426.20,205.14" fill="none" stroke="#000" stroke-width="1.4" stroke-linejoin="round"/>
<path d="M264.60,205.72 L265.14,205.23 L265.68,205.82 L266.22,205.24 L266.75,205.29 L267.29,205.53 L267.83,205.68 L268.37,205.56 L268.91,205.40 L269.45,205.33 L269.99,205.44 L270.53,205.28 L271.06,205.63 L271.60,205.45 L272.14,205.86 L272.68,205.33 L273.22,205.47 L273.76,205.60 L274.30,205.24 L274.83,205.35 L275.37,205.90 L275.91,205.50 L276.45,205.84 L276.99,205.25 L277.53,204.92 L278.07,205.59 L278.61,205.44 L279.14,205.49 L279.68,205.33 L280.22,205.24 L280.76,205.06 L281.30,205.55 L281.84,204.92 L282.38,205.47 L282.91,205.14 L283.45,204.90 L283.99,204.96 L284.53,205.30 L285.07,205.20 L285.61,205.09 L286.15,204.95 L286.69,204.61 L287.22,205.12 L287.76,204.62 L288.30,204.50 L288.84,204.40 L289.38,204.31 L289.92,203.94 L290.46,204.07 L290.99,203.85 L291.53,203.80 L292.07,203.36 L292.61,204.15 L293.15,203.20 L293.69,203.44 L294.23,203.29 L294.77,203.30 L295.30,203.37 L295.84,202.80 L296.38,202.69 L296.92,202.17 L297.46,202.50 L298.00,201.49 L298.54,201.58 L299.07,201.48 L299.61,201.36 L300.15,201.12 L300.69,200.95 L301.23,200.48 L301.77,200.01 L302.31,199.73 L302.85,199.75 L303.38,199.02 L303.92,198.82 L304.46,198.06 L305.00,197.03 L305.54,196.89 L306.08,196.59 L306.62,196.38 L307.15,195.58 L307.69,194.91 L308.23,193.18 L308.77,192.85 L309.31,191.59 L309.85,190.84 L310.39,189.39 L310.93,187.54 L311.46,187.09 L312.00,185.49 L312.54,184.19 L313.08,181.75 L313.62,181.10 L314.16,179.50 L314.70,177.95 L315.23,176.16 L315.77,173.09 L316.31,169.68 L316.85,169.82 L317.39,166.26 L317.93,164.40 L318.47,162.97 L319.01,160.10 L319.54,157.73 L320.08,155.70 L320.62,150.95 L321.16,151.75 L321.70,147.04 L322.24,144.26 L322.78,142.16 L323.31,138.31 L323.85,134.32 L324.39,131.86 L324.93,128.34 L325.47,124.86 L326.01,125.15 L326.55,117.94 L327.09,114.05 L327.62,112.93 L328.16,110.15 L328.70,110.86 L329.24,106.54 L329.78,105.12 L330.32,102.47 L330.86,97.82 L331.39,98.25 L331.93,95.06 L332.47,95.60 L333.01,90.78 L333.55,88.56 L334.09,88.12 L334.63,86.56 L335.17,80.79 L335.70,84.96 L336.24,83.88 L336.78,82.71 L337.32,78.56 L337.86,76.43 L338.40,79.13 L338.94,80.82 L339.47,80.43 L340.01,78.17 L340.55,82.08 L341.09,78.60 L341.63,79.35 L342.17,82.36 L342.71,82.31 L343.25,83.32 L343.78,83.35 L344.32,89.15 L344.86,87.02 L345.40,91.05 L345.94,93.22 L346.48,93.47 L347.02,95.67 L347.55,98.63 L348.09,101.40 L348.63,102.34 L349.17,100.85 L349.71,102.36 L350.25,106.77 L350.79,108.75 L351.33,113.78 L351.86,115.79 L352.40,117.64 L352.94,121.38 L353.48,123.13 L354.02,123.56 L354.56,125.75 L355.10,128.25 L355.63,128.16 L356.17,130.50 L356.71,130.68 L357.25,133.49 L357.79,135.54 L358.33,136.85 L358.87,138.93 L359.41,141.20 L359.94,142.73 L360.48,143.44 L361.02,145.43 L361.56,146.78 L362.10,151.52 L362.64,152.45 L363.18,154.57 L363.71,156.16 L364.25,158.63 L364.79,160.54 L365.33,161.39 L365.87,163.66 L366.41,166.36 L366.95,166.29 L367.49,168.11 L368.02,170.60 L368.56,171.04 L369.10,173.31 L369.64,173.41 L370.18,175.41 L370.72,176.89 L371.26,177.73 L371.79,179.01 L372.33,179.50 L372.87,180.49 L373.41,181.52 L373.95,182.74 L374.49,185.16 L375.03,184.18 L375.57,185.98 L376.10,185.79 L376.64,186.17 L377.18,187.32 L377.72,188.33 L378.26,188.92 L378.80,189.53 L379.34,190.29 L379.87,190.87 L380.41,191.54 L380.95,191.22 L381.49,192.19 L382.03,192.29 L382.57,193.22 L383.11,193.54 L383.65,194.06 L384.18,194.26 L384.72,194.55 L385.26,195.16 L385.80,195.89 L386.34,196.32 L386.88,195.90 L387.42,196.96 L387.95,197.37 L388.49,197.19 L389.03,197.70 L389.57,198.26 L390.11,198.91 L390.65,198.40 L391.19,199.33 L391.73,199.58 L392.26,200.07 L392.80,200.68 L393.34,200.87 L393.88,200.57 L394.42,200.77 L394.96,201.13 L395.50,201.56 L396.03,201.79 L396.57,201.63 L397.11,202.09 L397.65,201.58 L398.19,201.65 L398.73,201.33 L399.27,201.98 L399.81,202.50 L400.34,202.70 L400.88,203.50 L401.42,202.86 L401.96,202.87 L402.50,202.69 L403.04,202.90 L403.58,203.02 L404.11,203.23 L404.65,203.22 L405.19,203.13 L405.73,203.87 L406.27,203.81 L406.81,204.14 L407.35,203.47 L407.89,203.64 L408.42,203.86 L408.96,204.41 L409.50,204.14 L410.04,204.30 L410.58,204.28 L411.12,204.40 L411.66,204.28 L412.19,204.55 L412.73,204.30 L413.27,204.50 L413.81,204.67 L414.35,204.68 L414.89,204.80 L415.43,204.55 L415.97,204.85 L416.50,204.76 L417.04,204.96 L417.58,205.25 L418.12,204.72 L418.66,205.22 L419.20,204.84 L419.74,204.93 L420.27,205.44 L420.81,205.29 L421.35,205.20 L421.89,205.29 L422.43,205.38 L422.97,204.94 L423.51,205.17 L424.05,205.02 L424.58,205.21 L425.12,205.04 L425.66,205.29 L426.20,205.12" fill="none" stroke="#000" stroke-width="1.2" stroke-linejoin="round" stroke-dasharray="0.2,2.6" stroke-linecap="round"/>
<path d="M264.60,205.46 L265.14,205.58 L265.68,205.70 L266.22,205.84 L266.75,205.55 L267.29,205.51 L267.83,205.65 L268.37,205.77 L268.91,205.47 L269.45,205.02 L269.99,205.66 L270.53,205.51 L271.06,205.51 L271.60,205.90 L272.14,205.56 L272.68,205.75 L273.22,205.28 L273.76,205.65 L274.30,205.77 L274.83,205.64 L275.37,205.55 L275.91,205.72 L276.45,205.60 L276.99,205.89 L277.53,205.62 L278.07,205.38 L278.61,205.09 L279.14,205.36 L279.68,205.44 L280.22,205.21 L280.76,205.22 L281.30,205.05 L281.84,205.15 L282.38,205.40 L282.91,205.28 L283.45,205.27 L283.99,205.20 L284.53,205.19 L285.07,205.38 L285.61,205.66 L286.15,205.29 L286.69,205.56 L287.22,205.01 L287.76,204.97 L288.30,205.29 L288.84,204.65 L289.38,204.52 L289.92,204.62 L290.46,204.15 L290.99,204.00 L291.53,204.65 L292.07,204.01 L292.61,204.05 L293.15,203.94 L293.69,203.70 L294.23,203.99 L294.77,203.84 L295.30,203.77 L295.84,203.62 L296.38,203.31 L296.92,203.51 L297.46,203.25 L298.00,202.66 L298.54,202.66 L299.07,202.36 L299.61,202.79 L300.15,202.30 L300.69,202.03 L301.23,201.66 L301.77,201.60 L302.31,200.93 L302.85,200.95 L303.38,200.65 L303.92,200.36 L304.46,199.85 L305.00,199.87 L305.54,199.02 L306.08,198.80 L306.62,198.43 L307.15,197.95 L307.69,197.23 L308.23,196.47 L308.77,195.85 L309.31,195.36 L309.85,194.47 L310.39,193.97 L310.93,192.68 L311.46,192.21 L312.00,192.01 L312.54,189.54 L313.08,188.90 L313.62,188.27 L314.16,186.62 L314.70,185.68 L315.23,182.96 L315.77,182.39 L316.31,182.03 L316.85,179.40 L317.39,178.32 L317.93,175.33 L318.47,175.35 L319.01,174.32 L319.54,171.01 L320.08,169.33 L320.62,167.35 L321.16,166.48 L321.70,162.45 L322.24,159.23 L322.78,159.66 L323.31,154.61 L323.85,153.40 L324.39,148.06 L324.93,147.00 L325.47,144.86 L326.01,140.94 L326.55,138.99 L327.09,137.74 L327.62,133.98 L328.16,132.99 L328.70,132.20 L329.24,125.65 L329.78,126.36 L330.32,124.67 L330.86,121.55 L331.39,122.02 L331.93,119.99 L332.47,117.25 L333.01,115.82 L333.55,113.69 L334.09,110.98 L334.63,111.96 L335.17,109.65 L335.70,108.75 L336.24,110.48 L336.78,108.08 L337.32,109.21 L337.86,105.99 L338.40,106.57 L338.94,107.09 L339.47,109.09 L340.01,107.27 L340.55,108.87 L341.09,107.26 L341.63,108.91 L342.17,110.40 L342.71,108.64 L343.25,109.77 L343.78,112.56 L344.32,111.29 L344.86,114.39 L345.40,115.54 L345.94,116.13 L346.48,118.46 L347.02,119.32 L347.55,120.27 L348.09,119.55 L348.63,121.05 L349.17,124.69 L349.71,124.04 L350.25,127.73 L350.79,129.19 L351.33,130.69 L351.86,133.40 L352.40,133.07 L352.94,137.11 L353.48,140.11 L354.02,138.97 L354.56,142.04 L355.10,143.20 L355.63,147.03 L356.17,144.40 L356.71,145.79 L357.25,147.04 L357.79,148.14 L358.33,148.82 L358.87,151.70 L359.41,152.19 L359.94,154.96 L360.48,155.98 L361.02,156.21 L361.56,158.16 L362.10,160.94 L362.64,161.13 L363.18,163.11 L363.71,165.16 L364.25,165.86 L364.79,167.98 L365.33,170.21 L365.87,171.28 L366.41,170.83 L366.95,174.24 L367.49,174.48 L368.02,175.50 L368.56,176.67 L369.10,178.80 L369.64,179.30 L370.18,180.02 L370.72,180.61 L371.26,182.26 L371.79,183.38 L372.33,183.14 L372.87,183.90 L373.41,185.03 L373.95,186.24 L374.49,186.49 L375.03,187.33 L375.57,187.69 L376.10,189.26 L376.64,189.33 L377.18,190.07 L377.72,191.06 L378.26,191.11 L378.80,191.74 L379.34,192.44 L379.87,192.63 L380.41,193.78 L380.95,193.70 L381.49,193.94 L382.03,194.40 L382.57,194.50 L383.11,195.68 L383.65,196.14 L384.18,195.88 L384.72,196.14 L385.26,195.91 L385.80,196.74 L386.34,197.55 L386.88,197.31 L387.42,198.14 L387.95,198.65 L388.49,197.67 L389.03,198.69 L389.57,198.88 L390.11,199.22 L390.65,199.15 L391.19,199.89 L391.73,199.89 L392.26,200.81 L392.80,201.16 L393.34,200.59 L393.88,200.79 L394.42,201.26 L394.96,201.52 L395.50,201.69 L396.03,202.07 L396.57,201.61 L397.11,201.98 L397.65,202.15 L398.19,202.31 L398.73,202.24 L399.27,202.50 L399.81,202.54 L400.34,203.14 L400.88,202.80 L401.42,202.46 L401.96,203.26 L402.50,203.25 L403.04,203.08 L403.58,203.15 L404.11,203.33 L404.65,203.98 L405.19,203.54 L405.73,204.05 L406.27,204.04 L406.81,203.78 L407.35,204.07 L407.89,203.87 L408.42,203.38 L408.96,204.03 L409.50,204.11 L410.04,204.57 L410.58,204.57 L411.12,204.73 L411.66,204.66 L412.19,204.84 L412.73,204.78 L413.27,204.72 L413.81,204.94 L414.35,205.08 L414.89,205.10 L415.43,204.71 L415.97,204.84 L416.50,204.65 L417.04,204.68 L417.58,205.04 L418.12,204.84 L418.66,205.37 L419.20,204.52 L419.74,204.81 L420.27,205.17 L420.81,205.41 L421.35,205.08 L421.89,205.63 L422.43,205.39 L422.97,205.05 L423.51,205.23 L424.05,205.37 L424.58,205.05 L425.12,205.52 L425.66,205.21 L426.20,205.40" fill="none" stroke="#0070C0" stroke-width="1.4" stroke-linejoin="round"/>
<path d="M264.60,205.81 L265.14,205.51 L265.68,205.85 L266.22,205.19 L266.75,205.75 L267.29,205.17 L267.83,205.87 L268.37,205.48 L268.91,205.89 L269.45,205.90 L269.99,205.58 L270.53,205.46 L271.06,205.90 L271.60,205.35 L272.14,205.80 L272.68,205.59 L273.22,205.53 L273.76,205.48 L274.30,205.90 L274.83,205.25 L275.37,205.49 L275.91,205.71 L276.45,205.85 L276.99,205.90 L277.53,205.90 L278.07,205.46 L278.61,205.65 L279.14,205.81 L279.68,205.66 L280.22,205.16 L280.76,205.57 L281.30,205.61 L281.84,205.14 L282.38,205.31 L282.91,205.38 L283.45,205.50 L283.99,205.69 L284.53,205.57 L285.07,205.38 L285.61,205.28 L286.15,205.12 L286.69,205.03 L287.22,205.06 L287.76,205.00 L288.30,205.22 L288.84,205.42 L289.38,204.96 L289.92,204.98 L290.46,204.83 L290.99,204.65 L291.53,204.80 L292.07,204.68 L292.61,204.34 L293.15,204.19 L293.69,204.27 L294.23,203.88 L294.77,203.95 L295.30,204.03 L295.84,203.64 L296.38,203.04 L296.92,203.56 L297.46,202.94 L298.00,202.74 L298.54,202.55 L299.07,202.99 L299.61,202.08 L300.15,202.40 L300.69,202.31 L301.23,202.11 L301.77,201.68 L302.31,201.60 L302.85,201.43 L303.38,200.77 L303.92,201.07 L304.46,200.89 L305.00,200.06 L305.54,199.75 L306.08,199.25 L306.62,199.48 L307.15,198.35 L307.69,198.02 L308.23,197.06 L308.77,197.47 L309.31,196.37 L309.85,195.89 L310.39,195.66 L310.93,194.57 L311.46,193.03 L312.00,192.70 L312.54,191.82 L313.08,190.13 L313.62,188.99 L314.16,187.86 L314.70,187.49 L315.23,186.00 L315.77,184.26 L316.31,183.78 L316.85,182.46 L317.39,180.19 L317.93,178.27 L318.47,178.20 L319.01,177.44 L319.54,175.10 L320.08,173.08 L320.62,170.68 L321.16,168.26 L321.70,166.79 L322.24,165.15 L322.78,162.36 L323.31,160.90 L323.85,157.76 L324.39,155.76 L324.93,150.41 L325.47,149.51 L326.01,148.61 L326.55,146.51 L327.09,143.80 L327.62,142.86 L328.16,139.85 L328.70,137.83 L329.24,134.14 L329.78,133.68 L330.32,132.27 L330.86,131.12 L331.39,129.23 L331.93,126.31 L332.47,124.98 L333.01,122.01 L333.55,122.93 L334.09,119.67 L334.63,119.60 L335.17,119.02 L335.70,120.90 L336.24,119.44 L336.78,116.31 L337.32,114.99 L337.86,116.16 L338.40,115.19 L338.94,116.62 L339.47,116.65 L340.01,117.25 L340.55,115.45 L341.09,116.68 L341.63,117.88 L342.17,118.48 L342.71,117.93 L343.25,119.00 L343.78,121.36 L344.32,119.18 L344.86,122.03 L345.40,123.38 L345.94,122.66 L346.48,124.31 L347.02,126.78 L347.55,127.25 L348.09,130.35 L348.63,131.16 L349.17,134.31 L349.71,131.87 L350.25,136.83 L350.79,135.84 L351.33,139.28 L351.86,141.27 L352.40,142.23 L352.94,143.34 L353.48,144.39 L354.02,144.59 L354.56,147.14 L355.10,147.83 L355.63,150.29 L356.17,150.23 L356.71,151.82 L357.25,153.46 L357.79,154.28 L358.33,155.43 L358.87,156.44 L359.41,157.48 L359.94,159.42 L360.48,160.83 L361.02,160.94 L361.56,164.04 L362.10,164.53 L362.64,164.34 L363.18,168.75 L363.71,168.80 L364.25,169.32 L364.79,172.24 L365.33,170.88 L365.87,175.35 L366.41,174.18 L366.95,175.36 L367.49,176.94 L368.02,178.71 L368.56,179.47 L369.10,181.11 L369.64,181.14 L370.18,183.01 L370.72,183.43 L371.26,183.63 L371.79,185.43 L372.33,185.82 L372.87,186.31 L373.41,187.69 L373.95,187.25 L374.49,188.28 L375.03,189.71 L375.57,189.70 L376.10,190.61 L376.64,191.14 L377.18,191.42 L377.72,192.28 L378.26,192.16 L378.80,193.30 L379.34,193.15 L379.87,193.99 L380.41,194.08 L380.95,194.99 L381.49,195.35 L382.03,195.94 L382.57,195.69 L383.11,195.91 L383.65,195.84 L384.18,196.44 L384.72,197.09 L385.26,197.54 L385.80,197.63 L386.34,198.05 L386.88,197.86 L387.42,198.31 L387.95,199.14 L388.49,199.37 L389.03,199.03 L389.57,199.62 L390.11,200.05 L390.65,199.91 L391.19,200.62 L391.73,200.84 L392.26,201.13 L392.80,201.78 L393.34,201.20 L393.88,201.97 L394.42,201.97 L394.96,202.17 L395.50,201.92 L396.03,202.27 L396.57,202.37 L397.11,202.95 L397.65,202.64 L398.19,203.11 L398.73,202.75 L399.27,202.83 L399.81,203.03 L400.34,202.59 L400.88,203.07 L401.42,203.14 L401.96,203.34 L402.50,203.51 L403.04,203.30 L403.58,203.35 L404.11,204.03 L404.65,203.52 L405.19,203.74 L405.73,203.71 L406.27,203.91 L406.81,204.40 L407.35,204.46 L407.89,203.79 L408.42,204.25 L408.96,204.72 L409.50,204.35 L410.04,204.58 L410.58,204.99 L411.12,205.15 L411.66,205.04 L412.19,204.63 L412.73,204.75 L413.27,204.84 L413.81,204.74 L414.35,204.70 L414.89,205.38 L415.43,204.99 L415.97,205.15 L416.50,205.27 L417.04,205.14 L417.58,205.08 L418.12,205.14 L418.66,205.45 L419.20,205.25 L419.74,204.69 L420.27,205.43 L420.81,205.60 L421.35,205.17 L421.89,205.12 L422.43,205.17 L422.97,205.55 L423.51,205.07 L424.05,205.50 L424.58,205.59 L425.12,205.47 L425.66,205.36 L426.20,205.17" fill="none" stroke="#0070C0" stroke-width="1.2" stroke-linejoin="round" stroke-dasharray="0.2,2.6" stroke-linecap="round"/>
<path d="M264.60,205.50 L265.14,205.65 L265.68,205.43 L266.22,205.62 L266.75,205.44 L267.29,205.90 L267.83,205.90 L268.37,205.47 L268.91,205.90 L269.45,205.71 L269.99,205.66 L270.53,205.75 L271.06,205.75 L271.60,205.32 L272.14,205.90 L272.68,205.44 L273.22,205.12 L273.76,205.64 L274.30,205.65 L274.83,205.48 L275.37,205.23 L275.91,205.90 L276.45,205.62 L276.99,205.67 L277.53,205.49 L278.07,205.57 L278.61,205.45 L279.14,205.68 L279.68,205.56 L280.22,205.70 L280.76,205.68 L281.30,205.54 L281.84,205.51 L282.38,205.73 L282.91,205.07 L283.45,205.44 L283.99,205.70 L284.53,205.09 L285.07,205.49 L285.61,205.17 L286.15,205.26 L286.69,205.16 L287.22,205.13 L287.76,205.25 L288.30,205.05 L288.84,204.51 L289.38,205.45 L289.92,204.83 L290.46,204.66 L290.99,204.94 L291.53,204.94 L292.07,204.01 L292.61,204.53 L293.15,203.84 L293.69,204.12 L294.23,204.14 L294.77,203.93 L295.30,203.79 L295.84,203.53 L296.38,203.60 L296.92,203.55 L297.46,203.41 L298.00,202.97 L298.54,202.97 L299.07,203.29 L299.61,203.04 L300.15,202.62 L300.69,202.70 L301.23,202.46 L301.77,202.42 L302.31,202.03 L302.85,201.63 L303.38,201.24 L303.92,201.27 L304.46,200.42 L305.00,200.76 L305.54,199.50 L306.08,199.79 L306.62,199.54 L307.15,199.41 L307.69,199.67 L308.23,198.34 L308.77,197.70 L309.31,196.56 L309.85,197.07 L310.39,195.30 L310.93,195.32 L311.46,194.18 L312.00,194.53 L312.54,192.63 L313.08,191.86 L313.62,190.45 L314.16,189.66 L314.70,189.13 L315.23,187.15 L315.77,186.13 L316.31,184.97 L316.85,183.49 L317.39,182.10 L317.93,181.27 L318.47,180.55 L319.01,179.09 L319.54,175.98 L320.08,174.70 L320.62,173.35 L321.16,171.93 L321.70,169.81 L322.24,167.93 L322.78,166.19 L323.31,164.32 L323.85,159.94 L324.39,159.10 L324.93,157.47 L325.47,155.79 L326.01,153.11 L326.55,149.75 L327.09,147.68 L327.62,146.59 L328.16,144.40 L328.70,142.86 L329.24,141.87 L329.78,137.69 L330.32,136.96 L330.86,133.06 L331.39,134.93 L331.93,132.75 L332.47,130.23 L333.01,130.27 L333.55,130.45 L334.09,128.88 L334.63,126.68 L335.17,125.56 L335.70,125.45 L336.24,123.63 L336.78,123.16 L337.32,123.54 L337.86,123.55 L338.40,123.67 L338.94,122.61 L339.47,122.23 L340.01,123.48 L340.55,123.31 L341.09,124.61 L341.63,126.34 L342.17,126.28 L342.71,124.71 L343.25,125.80 L343.78,125.30 L344.32,128.01 L344.86,128.04 L345.40,128.49 L345.94,129.84 L346.48,132.64 L347.02,133.22 L347.55,133.98 L348.09,136.32 L348.63,135.97 L349.17,136.65 L349.71,139.52 L350.25,138.49 L350.79,142.39 L351.33,144.02 L351.86,145.76 L352.40,147.81 L352.94,148.20 L353.48,149.83 L354.02,149.56 L354.56,151.62 L355.10,152.75 L355.63,154.43 L356.17,156.44 L356.71,156.34 L357.25,157.98 L357.79,157.58 L358.33,159.45 L358.87,159.26 L359.41,161.10 L359.94,162.15 L360.48,163.74 L361.02,164.91 L361.56,165.77 L362.10,166.80 L362.64,169.16 L363.18,169.67 L363.71,169.66 L364.25,172.72 L364.79,174.11 L365.33,175.59 L365.87,177.18 L366.41,176.83 L366.95,178.60 L367.49,179.57 L368.02,179.81 L368.56,180.47 L369.10,183.11 L369.64,182.99 L370.18,184.02 L370.72,184.91 L371.26,185.63 L371.79,186.59 L372.33,186.56 L372.87,187.67 L373.41,188.44 L373.95,188.69 L374.49,189.45 L375.03,190.22 L375.57,190.85 L376.10,190.84 L376.64,191.88 L377.18,192.64 L377.72,193.44 L378.26,193.73 L378.80,194.45 L379.34,194.47 L379.87,194.83 L380.41,196.03 L380.95,195.67 L381.49,195.81 L382.03,196.31 L382.57,197.01 L383.11,196.58 L383.65,197.53 L384.18,197.99 L384.72,198.22 L385.26,198.15 L385.80,198.10 L386.34,198.31 L386.88,198.87 L387.42,199.55 L387.95,199.64 L388.49,199.97 L389.03,200.01 L389.57,200.73 L390.11,200.43 L390.65,200.52 L391.19,200.98 L391.73,201.04 L392.26,201.65 L392.80,202.00 L393.34,201.97 L393.88,201.66 L394.42,201.86 L394.96,202.41 L395.50,202.10 L396.03,202.63 L396.57,202.26 L397.11,202.65 L397.65,203.00 L398.19,202.77 L398.73,203.27 L399.27,203.41 L399.81,203.62 L400.34,203.27 L400.88,203.43 L401.42,203.52 L401.96,203.68 L402.50,203.29 L403.04,203.84 L403.58,203.99 L404.11,203.57 L404.65,203.60 L405.19,203.95 L405.73,204.53 L406.27,204.32 L406.81,204.09 L407.35,204.30 L407.89,203.99 L408.42,204.77 L408.96,204.33 L409.50,204.70 L410.04,204.29 L410.58,204.68 L411.12,204.46 L411.66,204.91 L412.19,205.13 L412.73,205.10 L413.27,205.01 L413.81,205.14 L414.35,204.65 L414.89,204.65 L415.43,204.93 L415.97,205.27 L416.50,205.08 L417.04,205.25 L417.58,204.78 L418.12,205.07 L418.66,205.06 L419.20,205.29 L419.74,205.69 L420.27,205.42 L420.81,205.53 L421.35,205.20 L421.89,205.28 L422.43,205.51 L422.97,205.43 L423.51,204.99 L424.05,205.58 L424.58,205.58 L425.12,205.43 L425.66,205.54 L426.20,205.48" fill="none" stroke="#00B050" stroke-width="1.4" stroke-linejoin="round"/>
<path d="M264.60,205.51 L265.14,205.23 L265.68,205.90 L266.22,205.63 L266.75,205.62 L267.29,205.65 L267.83,205.67 L268.37,205.71 L268.91,205.40 L269.45,205.73 L269.99,205.66 L270.53,205.63 L271.06,205.60 L271.60,205.67 L272.14,205.40 L272.68,205.63 L273.22,205.59 L273.76,205.64 L274.30,205.86 L274.83,205.82 L275.37,205.87 L275.91,205.58 L276.45,205.79 L276.99,205.86 L277.53,205.55 L278.07,205.48 L278.61,205.90 L279.14,205.18 L279.68,205.54 L280.22,205.55 L280.76,205.26 L281.30,205.47 L281.84,205.60 L282.38,204.93 L282.91,205.66 L283.45,205.40 L283.99,205.15 L284.53,205.57 L285.07,205.31 L285.61,205.16 L286.15,204.66 L286.69,205.39 L287.22,205.15 L287.76,204.92 L288.30,205.00 L288.84,205.23 L289.38,204.77 L289.92,204.77 L290.46,204.60 L290.99,204.36 L291.53,204.30 L292.07,204.36 L292.61,204.29 L293.15,204.54 L293.69,204.21 L294.23,204.01 L294.77,204.06 L295.30,203.82 L295.84,203.93 L296.38,203.21 L296.92,202.92 L297.46,203.43 L298.00,203.08 L298.54,203.10 L299.07,202.55 L299.61,202.61 L300.15,202.53 L300.69,202.43 L301.23,202.14 L301.77,202.25 L302.31,201.58 L302.85,201.73 L303.38,201.14 L303.92,201.00 L304.46,200.45 L305.00,200.48 L305.54,199.85 L306.08,200.06 L306.62,199.19 L307.15,198.99 L307.69,198.37 L308.23,197.88 L308.77,197.04 L309.31,197.43 L309.85,196.02 L310.39,195.98 L310.93,194.26 L311.46,194.59 L312.00,193.34 L312.54,192.66 L313.08,190.34 L313.62,190.49 L314.16,188.82 L314.70,188.00 L315.23,187.46 L315.77,185.62 L316.31,183.88 L316.85,182.96 L317.39,180.98 L317.93,180.20 L318.47,178.50 L319.01,177.15 L319.54,175.07 L320.08,172.39 L320.62,171.54 L321.16,169.79 L321.70,168.42 L322.24,166.55 L322.78,162.86 L323.31,162.52 L323.85,160.04 L324.39,157.00 L324.93,154.85 L325.47,150.39 L326.01,151.90 L326.55,147.24 L327.09,144.78 L327.62,144.46 L328.16,141.97 L328.70,138.91 L329.24,135.74 L329.78,136.62 L330.32,135.59 L330.86,131.06 L331.39,128.74 L331.93,129.27 L332.47,130.01 L333.01,124.42 L333.55,125.19 L334.09,122.45 L334.63,122.84 L335.17,122.38 L335.70,121.82 L336.24,118.89 L336.78,118.42 L337.32,122.46 L337.86,120.59 L338.40,116.92 L338.94,119.55 L339.47,120.88 L340.01,119.37 L340.55,119.82 L341.09,120.20 L341.63,121.12 L342.17,121.37 L342.71,122.11 L343.25,121.88 L343.78,124.16 L344.32,124.48 L344.86,125.31 L345.40,124.60 L345.94,126.71 L346.48,128.34 L347.02,128.71 L347.55,130.02 L348.09,130.47 L348.63,132.39 L349.17,132.32 L349.71,134.20 L350.25,137.20 L350.79,139.30 L351.33,139.78 L351.86,141.96 L352.40,144.26 L352.94,147.07 L353.48,148.71 L354.02,147.93 L354.56,148.72 L355.10,149.83 L355.63,152.75 L356.17,151.80 L356.71,154.21 L357.25,154.50 L357.79,155.58 L358.33,157.72 L358.87,158.71 L359.41,161.03 L359.94,161.29 L360.48,163.14 L361.02,162.66 L361.56,164.17 L362.10,164.83 L362.64,166.55 L363.18,168.60 L363.71,169.35 L364.25,171.23 L364.79,171.95 L365.33,173.42 L365.87,175.44 L366.41,176.06 L366.95,177.22 L367.49,178.58 L368.02,179.02 L368.56,179.63 L369.10,181.67 L369.64,182.55 L370.18,184.34 L370.72,184.11 L371.26,185.04 L371.79,186.61 L372.33,186.20 L372.87,186.77 L373.41,188.04 L373.95,188.53 L374.49,189.42 L375.03,189.30 L375.57,190.85 L376.10,190.94 L376.64,190.60 L377.18,191.91 L377.72,192.28 L378.26,193.03 L378.80,193.91 L379.34,193.94 L379.87,194.22 L380.41,195.14 L380.95,195.04 L381.49,195.10 L382.03,195.51 L382.57,196.76 L383.11,196.88 L383.65,197.40 L384.18,196.82 L384.72,197.26 L385.26,197.52 L385.80,198.31 L386.34,198.67 L386.88,198.55 L387.42,198.82 L387.95,199.38 L388.49,199.34 L389.03,199.46 L389.57,199.85 L390.11,200.49 L390.65,201.05 L391.19,200.77 L391.73,200.89 L392.26,201.24 L392.80,201.50 L393.34,201.78 L393.88,201.58 L394.42,201.96 L394.96,202.07 L395.50,202.50 L396.03,202.54 L396.57,202.45 L397.11,202.88 L397.65,203.06 L398.19,202.92 L398.73,202.62 L399.27,202.98 L399.81,202.74 L400.34,203.24 L400.88,203.37 L401.42,203.73 L401.96,203.60 L402.50,203.18 L403.04,203.54 L403.58,203.52 L404.11,203.60 L404.65,203.86 L405.19,203.99 L405.73,203.98 L406.27,203.92 L406.81,204.04 L407.35,204.11 L407.89,204.26 L408.42,204.55 L408.96,204.49 L409.50,204.71 L410.04,204.30 L410.58,205.10 L411.12,204.70 L411.66,204.12 L412.19,204.82 L412.73,205.05 L413.27,204.82 L413.81,204.54 L414.35,204.92 L414.89,204.77 L415.43,204.93 L415.97,205.07 L416.50,204.27 L417.04,205.03 L417.58,205.20 L418.12,205.22 L418.66,205.04 L419.20,205.07 L419.74,205.01 L420.27,205.18 L420.81,205.57 L421.35,205.13 L421.89,205.35 L422.43,205.36 L422.97,205.65 L423.51,205.46 L424.05,205.50 L424.58,205.35 L425.12,205.69 L425.66,205.34 L426.20,205.33" fill="none" stroke="#00B050" stroke-width="1.2" stroke-linejoin="round" stroke-dasharray="0.2,2.6" stroke-linecap="round"/>
<path d="M264.60,205.86 L265.14,205.74 L265.68,205.80 L266.22,205.39 L266.75,205.90 L267.29,205.68 L267.83,205.90 L268.37,205.70 L268.91,205.41 L269.45,205.74 L269.99,205.57 L270.53,205.79 L271.06,205.16 L271.60,205.39 L272.14,205.34 L272.68,205.90 L273.22,205.85 L273.76,205.35 L274.30,205.64 L274.83,205.66 L275.37,205.52 L275.91,205.89 L276.45,205.42 L276.99,205.58 L277.53,205.47 L278.07,205.72 L278.61,205.43 L279.14,205.69 L279.68,205.29 L280.22,205.23 L280.76,205.26 L281.30,205.32 L281.84,205.27 L282.38,205.90 L282.91,205.16 L283.45,205.39 L283.99,205.27 L284.53,205.32 L285.07,205.55 L285.61,205.31 L286.15,205.00 L286.69,204.78 L287.22,205.20 L287.76,205.21 L288.30,204.58 L288.84,205.06 L289.38,204.27 L289.92,204.67 L290.46,204.80 L290.99,204.26 L291.53,203.99 L292.07,204.66 L292.61,203.83 L293.15,204.17 L293.69,203.63 L294.23,203.97 L294.77,204.15 L295.30,203.50 L295.84,203.26 L296.38,202.83 L296.92,202.77 L297.46,202.88 L298.00,202.97 L298.54,202.88 L299.07,202.65 L299.61,202.61 L300.15,202.28 L300.69,202.69 L301.23,201.74 L301.77,201.58 L302.31,200.62 L302.85,200.87 L303.38,200.95 L303.92,200.37 L304.46,200.59 L305.00,200.09 L305.54,200.12 L306.08,198.71 L306.62,198.52 L307.15,198.57 L307.69,197.68 L308.23,196.77 L308.77,196.30 L309.31,195.68 L309.85,195.43 L310.39,194.60 L310.93,193.50 L311.46,192.26 L312.00,191.95 L312.54,191.03 L313.08,188.98 L313.62,188.71 L314.16,186.63 L314.70,185.78 L315.23,184.22 L315.77,182.48 L316.31,181.61 L316.85,180.08 L317.39,179.45 L317.93,177.73 L318.47,175.29 L319.01,172.99 L319.54,171.23 L320.08,168.70 L320.62,168.03 L321.16,166.05 L321.70,163.34 L322.24,161.88 L322.78,159.63 L323.31,157.95 L323.85,153.68 L324.39,152.79 L324.93,148.71 L325.47,147.86 L326.01,142.91 L326.55,142.56 L327.09,138.34 L327.62,138.57 L328.16,135.12 L328.70,131.16 L329.24,131.28 L329.78,128.29 L330.32,126.99 L330.86,127.28 L331.39,122.28 L331.93,120.38 L332.47,120.71 L333.01,117.15 L333.55,117.61 L334.09,116.64 L334.63,114.18 L335.17,114.14 L335.70,109.42 L336.24,114.01 L336.78,110.35 L337.32,109.51 L337.86,113.17 L338.40,112.58 L338.94,109.33 L339.47,110.85 L340.01,109.90 L340.55,109.21 L341.09,111.71 L341.63,113.13 L342.17,115.88 L342.71,112.55 L343.25,114.88 L343.78,114.19 L344.32,115.37 L344.86,118.57 L345.40,115.68 L345.94,117.63 L346.48,119.11 L347.02,122.86 L347.55,123.17 L348.09,124.67 L348.63,125.89 L349.17,128.17 L349.71,127.86 L350.25,129.79 L350.79,131.53 L351.33,134.47 L351.86,134.53 L352.40,137.59 L352.94,142.24 L353.48,141.55 L354.02,142.34 L354.56,142.64 L355.10,145.10 L355.63,146.25 L356.17,147.80 L356.71,147.75 L357.25,149.94 L357.79,151.29 L358.33,152.66 L358.87,152.83 L359.41,155.05 L359.94,157.28 L360.48,156.71 L361.02,159.10 L361.56,159.63 L362.10,161.01 L362.64,161.86 L363.18,163.51 L363.71,166.23 L364.25,167.48 L364.79,169.73 L365.33,169.18 L365.87,171.35 L366.41,172.11 L366.95,174.48 L367.49,176.77 L368.02,175.89 L368.56,177.86 L369.10,178.88 L369.64,179.91 L370.18,180.54 L370.72,181.51 L371.26,183.46 L371.79,182.96 L372.33,184.56 L372.87,185.30 L373.41,185.03 L373.95,186.14 L374.49,187.41 L375.03,188.76 L375.57,188.53 L376.10,189.02 L376.64,189.91 L377.18,191.00 L377.72,191.39 L378.26,192.14 L378.80,192.10 L379.34,192.38 L379.87,192.79 L380.41,193.90 L380.95,193.96 L381.49,194.26 L382.03,195.03 L382.57,195.27 L383.11,194.84 L383.65,195.86 L384.18,195.96 L384.72,196.74 L385.26,196.89 L385.80,197.78 L386.34,197.53 L386.88,197.44 L387.42,197.45 L387.95,198.04 L388.49,198.50 L389.03,198.99 L389.57,199.48 L390.11,199.64 L390.65,199.69 L391.19,200.38 L391.73,200.15 L392.26,200.96 L392.80,201.42 L393.34,201.43 L393.88,201.81 L394.42,201.92 L394.96,201.40 L395.50,201.92 L396.03,201.95 L396.57,201.83 L397.11,201.94 L397.65,202.53 L398.19,202.16 L398.73,202.52 L399.27,202.73 L399.81,202.72 L400.34,203.30 L400.88,203.23 L401.42,203.14 L401.96,203.05 L402.50,203.39 L403.04,203.42 L403.58,203.23 L404.11,203.20 L404.65,203.45 L405.19,203.41 L405.73,203.92 L406.27,203.97 L406.81,203.90 L407.35,204.13 L407.89,204.25 L408.42,203.80 L408.96,204.32 L409.50,204.57 L410.04,204.28 L410.58,204.02 L411.12,204.50 L411.66,204.27 L412.19,204.72 L412.73,204.78 L413.27,204.87 L413.81,204.77 L414.35,204.34 L414.89,205.09 L415.43,204.46 L415.97,205.13 L416.50,204.98 L417.04,204.76 L417.58,204.84 L418.12,204.96 L418.66,205.44 L419.20,205.00 L419.74,205.35 L420.27,204.54 L420.81,205.22 L421.35,205.15 L421.89,205.48 L422.43,205.34 L422.97,205.55 L423.51,205.04 L424.05,205.34 L424.58,205.16 L425.12,205.45 L425.66,205.42 L426.20,205.00" fill="none" stroke="#7030A0" stroke-width="1.4" stroke-linejoin="round"/>
<path d="M264.60,205.85 L265.14,205.90 L265.68,205.53 L266.22,205.88 L266.75,205.73 L267.29,205.42 L267.83,205.81 L268.37,205.42 L268.91,205.78 L269.45,205.29 L269.99,205.32 L270.53,205.73 L271.06,205.67 L271.60,205.81 L272.14,205.58 L272.68,205.36 L273.22,205.90 L273.76,205.42 L274.30,205.90 L274.83,205.82 L275.37,205.90 L275.91,205.14 L276.45,205.61 L276.99,205.56 L277.53,205.76 L278.07,205.35 L278.61,205.90 L279.14,205.56 L279.68,205.04 L280.22,205.61 L280.76,205.50 L281.30,205.33 L281.84,205.64 L282.38,205.42 L282.91,205.18 L283.45,205.33 L283.99,205.26 L284.53,205.39 L285.07,205.21 L285.61,205.23 L286.15,204.87 L286.69,205.00 L287.22,205.18 L287.76,205.64 L288.30,204.84 L288.84,204.75 L289.38,205.07 L289.92,205.25 L290.46,204.97 L290.99,204.39 L291.53,204.78 L292.07,204.55 L292.61,204.29 L293.15,203.95 L293.69,204.15 L294.23,204.07 L294.77,204.07 L295.30,203.41 L295.84,203.43 L296.38,203.59 L296.92,203.79 L297.46,203.50 L298.00,203.00 L298.54,203.19 L299.07,202.61 L299.61,202.58 L300.15,202.43 L300.69,202.14 L301.23,201.99 L301.77,202.15 L302.31,201.79 L302.85,200.82 L303.38,201.57 L303.92,201.10 L304.46,200.39 L305.00,200.45 L305.54,200.31 L306.08,200.10 L306.62,199.12 L307.15,198.51 L307.69,197.89 L308.23,197.78 L308.77,196.89 L309.31,196.98 L309.85,195.94 L310.39,195.55 L310.93,194.48 L311.46,193.42 L312.00,192.38 L312.54,192.21 L313.08,190.28 L313.62,189.93 L314.16,189.08 L314.70,187.59 L315.23,187.04 L315.77,185.18 L316.31,183.76 L316.85,182.65 L317.39,180.85 L317.93,179.82 L318.47,178.12 L319.01,177.36 L319.54,174.83 L320.08,173.64 L320.62,171.58 L321.16,169.48 L321.70,167.34 L322.24,166.64 L322.78,164.49 L323.31,161.30 L323.85,158.31 L324.39,155.95 L324.93,153.03 L325.47,150.21 L326.01,148.55 L326.55,146.79 L327.09,145.61 L327.62,143.44 L328.16,140.91 L328.70,138.16 L329.24,136.27 L329.78,134.66 L330.32,133.05 L330.86,130.41 L331.39,129.19 L331.93,127.48 L332.47,125.98 L333.01,125.69 L333.55,125.08 L334.09,122.08 L334.63,121.12 L335.17,121.03 L335.70,120.61 L336.24,116.68 L336.78,120.00 L337.32,118.86 L337.86,117.88 L338.40,119.45 L338.94,117.74 L339.47,115.66 L340.01,116.99 L340.55,117.69 L341.09,118.15 L341.63,119.20 L342.17,118.61 L342.71,120.58 L343.25,121.66 L343.78,121.90 L344.32,121.90 L344.86,123.62 L345.40,124.23 L345.94,128.46 L346.48,125.74 L347.02,125.56 L347.55,127.91 L348.09,131.02 L348.63,132.88 L349.17,132.97 L349.71,135.73 L350.25,135.44 L350.79,138.49 L351.33,138.79 L351.86,140.24 L352.40,145.30 L352.94,144.56 L353.48,146.85 L354.02,148.76 L354.56,149.20 L355.10,149.98 L355.63,149.96 L356.17,153.28 L356.71,152.13 L357.25,152.41 L357.79,154.74 L358.33,155.95 L358.87,157.59 L359.41,159.70 L359.94,159.55 L360.48,160.88 L361.02,161.85 L361.56,161.76 L362.10,164.40 L362.64,165.96 L363.18,166.59 L363.71,169.97 L364.25,171.24 L364.79,172.11 L365.33,173.57 L365.87,174.00 L366.41,175.84 L366.95,175.86 L367.49,177.18 L368.02,178.72 L368.56,180.39 L369.10,180.82 L369.64,181.63 L370.18,183.45 L370.72,183.57 L371.26,184.21 L371.79,185.21 L372.33,185.33 L372.87,186.22 L373.41,187.83 L373.95,188.08 L374.49,189.13 L375.03,189.15 L375.57,190.37 L376.10,190.22 L376.64,191.02 L377.18,191.36 L377.72,192.34 L378.26,193.35 L378.80,192.63 L379.34,193.83 L379.87,193.71 L380.41,194.47 L380.95,194.77 L381.49,194.75 L382.03,195.63 L382.57,195.61 L383.11,196.92 L383.65,196.45 L384.18,197.13 L384.72,197.39 L385.26,197.64 L385.80,197.81 L386.34,197.68 L386.88,199.06 L387.42,198.74 L387.95,199.24 L388.49,198.94 L389.03,199.69 L389.57,199.70 L390.11,200.22 L390.65,200.17 L391.19,200.33 L391.73,200.98 L392.26,201.08 L392.80,201.72 L393.34,201.44 L393.88,201.48 L394.42,202.05 L394.96,201.75 L395.50,202.75 L396.03,202.82 L396.57,202.82 L397.11,202.70 L397.65,202.68 L398.19,202.81 L398.73,202.91 L399.27,202.80 L399.81,203.20 L400.34,203.49 L400.88,203.58 L401.42,202.80 L401.96,204.02 L402.50,203.55 L403.04,203.22 L403.58,203.55 L404.11,203.96 L404.65,203.83 L405.19,203.69 L405.73,203.69 L406.27,204.28 L406.81,203.95 L407.35,204.14 L407.89,204.00 L408.42,204.00 L408.96,204.49 L409.50,204.82 L410.04,204.43 L410.58,204.15 L411.12,204.47 L411.66,204.62 L412.19,204.15 L412.73,205.01 L413.27,204.59 L413.81,204.97 L414.35,204.86 L414.89,204.88 L415.43,204.58 L415.97,205.19 L416.50,205.13 L417.04,205.41 L417.58,204.95 L418.12,205.20 L418.66,205.02 L419.20,205.40 L419.74,205.26 L420.27,204.96 L420.81,205.27 L421.35,205.10 L421.89,205.14 L422.43,205.37 L422.97,205.66 L423.51,205.09 L424.05,205.29 L424.58,205.11 L425.12,205.81 L425.66,205.73 L426.20,205.85" fill="none" stroke="#7030A0" stroke-width="1.2" stroke-linejoin="round" stroke-dasharray="0.2,2.6" stroke-linecap="round"/>
<path d="M264.60,18.30 V205.90 H426.70" fill="none" stroke="#262626" stroke-width="1.3"/>
<line x1="261.60" y1="205.90" x2="264.60" y2="205.90" stroke="#262626" stroke-width="1"/>
<text x="256.80" y="208.70" font-size="8.3" font-weight="normal" fill="#595959" text-anchor="end">0</text>
<line x1="261.60" y1="187.19" x2="264.60" y2="187.19" stroke="#262626" stroke-width="1"/>
<text x="256.80" y="189.99" font-size="8.3" font-weight="normal" fill="#595959" text-anchor="end">50</text>
<line x1="261.60" y1="168.48" x2="264.60" y2="168.48" stroke="#262626" stroke-width="1"/>
<text x="256.80" y="171.28" font-size="8.3" font-weight="normal" fill="#595959" text-anchor="end">100</text>
<line x1="261.60" y1="149.77" x2="264.60" y2="149.77" stroke="#262626" stroke-width="1"/>
<text x="256.80" y="152.57" font-size="8.3" font-weight="normal" fill="#595959" text-anchor="end">150</text>
<line x1="261.60" y1="131.06" x2="264.60" y2="131.06" stroke="#262626" stroke-width="1"/>
<text x="256.80" y="133.86" font-size="8.3" font-weight="normal" fill="#595959" text-anchor="end">200</text>
<line x1="261.60" y1="112.35" x2="264.60" y2="112.35" stroke="#262626" stroke-width="1"/>
<text x="256.80" y="115.15" font-size="8.3" font-weight="normal" fill="#595959" text-anchor="end">250</text>
<line x1="261.60" y1="93.64" x2="264.60" y2="93.64" stroke="#262626" stroke-width="1"/>
<text x="256.80" y="96.44" font-size="8.3" font-weight="normal" fill="#595959" text-anchor="end">300</text>
<line x1="261.60" y1="74.93" x2="264.60" y2="74.93" stroke="#262626" stroke-width="1"/>
<text x="256.80" y="77.73" font-size="8.3" font-weight="normal" fill="#595959" text-anchor="end">350</text>
<line x1="261.60" y1="56.22" x2="264.60" y2="56.22" stroke="#262626" stroke-width="1"/>
<text x="256.80" y="59.02" font-size="8.3" font-weight="normal" fill="#595959" text-anchor="end">400</text>
<line x1="261.60" y1="37.51" x2="264.60" y2="37.51" stroke="#262626" stroke-width="1"/>
<text x="256.80" y="40.31" font-size="8.3" font-weight="normal" fill="#595959" text-anchor="end">450</text>
<line x1="261.60" y1="18.80" x2="264.60" y2="18.80" stroke="#262626" stroke-width="1"/>
<text x="256.80" y="21.60" font-size="8.3" font-weight="normal" fill="#595959" text-anchor="end">500</text>
<line x1="264.60" y1="205.90" x2="264.60" y2="208.90" stroke="#262626" stroke-width="1"/>
<text x="264.60" y="219.50" font-size="8.3" font-weight="normal" fill="#595959" text-anchor="middle">500</text>
<line x1="291.53" y1="205.90" x2="291.53" y2="208.90" stroke="#262626" stroke-width="1"/>
<text x="291.53" y="219.50" font-size="8.3" font-weight="normal" fill="#595959" text-anchor="middle">550</text>
<line x1="318.47" y1="205.90" x2="318.47" y2="208.90" stroke="#262626" stroke-width="1"/>
<text x="318.47" y="219.50" font-size="8.3" font-weight="normal" fill="#595959" text-anchor="middle">600</text>
<line x1="345.40" y1="205.90" x2="345.40" y2="208.90" stroke="#262626" stroke-width="1"/>
<text x="345.40" y="219.50" font-size="8.3" font-weight="normal" fill="#595959" text-anchor="middle">650</text>
<line x1="372.33" y1="205.90" x2="372.33" y2="208.90" stroke="#262626" stroke-width="1"/>
<text x="372.33" y="219.50" font-size="8.3" font-weight="normal" fill="#595959" text-anchor="middle">700</text>
<line x1="399.27" y1="205.90" x2="399.27" y2="208.90" stroke="#262626" stroke-width="1"/>
<text x="399.27" y="219.50" font-size="8.3" font-weight="normal" fill="#595959" text-anchor="middle">750</text>
<line x1="426.20" y1="205.90" x2="426.20" y2="208.90" stroke="#262626" stroke-width="1"/>
<text x="426.20" y="219.50" font-size="8.3" font-weight="normal" fill="#595959" text-anchor="middle">800</text>
<line x1="268.00" y1="23.85" x2="282.60" y2="23.85" stroke="#000" stroke-width="1.4"/>
<text x="285.30" y="25.90" font-size="7.5" font-weight="normal" fill="#595959" text-anchor="start" textLength="27.2" lengthAdjust="spacingAndGlyphs">H<tspan font-size="5" dy="1.8">2</tspan><tspan dy="-1.8">O , </tspan>2 h</text>
<line x1="268.60" y1="34.71" x2="282.60" y2="34.71" stroke="#000" stroke-width="1.2" stroke-dasharray="0.2,2.6" stroke-linecap="round"/>
<text x="285.30" y="36.76" font-size="7.5" font-weight="normal" fill="#595959" text-anchor="start" textLength="31" lengthAdjust="spacingAndGlyphs">H<tspan font-size="5" dy="1.8">2</tspan><tspan dy="-1.8">O , </tspan>24 h</text>
<line x1="268.00" y1="45.57" x2="282.60" y2="45.57" stroke="#0070C0" stroke-width="1.4"/>
<text x="284.50" y="47.62" font-size="7.5" font-weight="normal" fill="#595959" text-anchor="start" textLength="26.2" lengthAdjust="spacingAndGlyphs">NaCl, 2 h</text>
<line x1="268.60" y1="56.43" x2="282.60" y2="56.43" stroke="#0070C0" stroke-width="1.2" stroke-dasharray="0.2,2.6" stroke-linecap="round"/>
<text x="284.50" y="58.48" font-size="7.5" font-weight="normal" fill="#595959" text-anchor="start" textLength="29.6" lengthAdjust="spacingAndGlyphs">NaCl, 24 h</text>
<line x1="268.00" y1="67.29" x2="282.60" y2="67.29" stroke="#00B050" stroke-width="1.4"/>
<text x="284.30" y="69.34" font-size="7.5" font-weight="normal" fill="#595959" text-anchor="start" textLength="23.7" lengthAdjust="spacingAndGlyphs">KCl, 2 h</text>
<line x1="268.60" y1="78.15" x2="282.60" y2="78.15" stroke="#00B050" stroke-width="1.2" stroke-dasharray="0.2,2.6" stroke-linecap="round"/>
<text x="284.30" y="80.20" font-size="7.5" font-weight="normal" fill="#595959" text-anchor="start" textLength="26.7" lengthAdjust="spacingAndGlyphs">KCl, 24 h</text>
<line x1="268.00" y1="89.01" x2="282.60" y2="89.01" stroke="#7030A0" stroke-width="1.4"/>
<text x="284.30" y="91.06" font-size="7.5" font-weight="normal" fill="#595959" text-anchor="start" textLength="29.7" lengthAdjust="spacingAndGlyphs">CaCl<tspan font-size="5" dy="1.8">2</tspan><tspan dy="-1.8"> , </tspan>2 h</text>
<line x1="268.60" y1="99.87" x2="282.60" y2="99.87" stroke="#7030A0" stroke-width="1.2" stroke-dasharray="0.2,2.6" stroke-linecap="round"/>
<text x="284.30" y="101.92" font-size="7.5" font-weight="normal" fill="#595959" text-anchor="start" textLength="33.1" lengthAdjust="spacingAndGlyphs">CaCl<tspan font-size="5" dy="1.8">2</tspan><tspan dy="-1.8"> , </tspan>24 h</text>
<text x="338.10" y="17.20" font-size="17" font-weight="bold" fill="#000" text-anchor="middle">(d)</text>
<text x="343.10" y="230.70" font-size="10.7" font-weight="bold" fill="#000" text-anchor="middle" textLength="75" lengthAdjust="spacingAndGlyphs">Wavelength, nm</text>
<text transform="translate(234.60,102.50) rotate(-90)" font-size="10.7" font-weight="bold" fill="#000" text-anchor="middle" textLength="62.5" lengthAdjust="spacingAndGlyphs">Intensity, a.u.</text>
<rect x="70.49" y="272.01" width="9.72" height="78.69" fill="#558ED5" stroke="#3f6fb0" stroke-width="0.75"/>
<rect x="80.22" y="270.05" width="9.72" height="80.65" fill="#D99694" stroke="#b06e6c" stroke-width="0.75"/>
<path d="M75.35,267.42 V276.60 M74.05,267.42 H76.65 M74.05,276.60 H76.65" stroke="#000" stroke-width="1.4" fill="none"/>
<path d="M85.08,265.13 V274.96 M83.78,265.13 H86.38 M83.78,274.96 H86.38" stroke="#000" stroke-width="1.4" fill="none"/>
<text transform="translate(86.82,361.20) rotate(-45)" font-size="7.7" font-weight="normal" fill="#474747" text-anchor="end">H<tspan font-size="5" dy="1.5">2</tspan><tspan dy="-1.5">O</tspan></text>
<rect x="104.53" y="302.50" width="9.72" height="48.19" fill="#558ED5" stroke="#3f6fb0" stroke-width="0.75"/>
<rect x="114.25" y="322.50" width="9.72" height="28.20" fill="#D99694" stroke="#b06e6c" stroke-width="0.75"/>
<path d="M109.39,296.47 V308.54 M108.09,296.47 H110.69 M108.09,308.54 H110.69" stroke="#000" stroke-width="1.4" fill="none"/>
<path d="M119.11,316.21 V328.80 M117.81,316.21 H120.41 M117.81,328.80 H120.41" stroke="#000" stroke-width="1.4" fill="none"/>
<text transform="translate(115.35,361.10) rotate(-45)" font-size="7.7" font-weight="normal" fill="#474747" text-anchor="end">DMEM</text>
<rect x="138.56" y="310.90" width="9.72" height="39.80" fill="#558ED5" stroke="#3f6fb0" stroke-width="0.75"/>
<rect x="148.28" y="320.54" width="9.72" height="30.16" fill="#D99694" stroke="#b06e6c" stroke-width="0.75"/>
<path d="M143.42,307.49 V314.31 M142.12,307.49 H144.72 M142.12,314.31 H144.72" stroke="#000" stroke-width="1.4" fill="none"/>
<path d="M153.15,317.26 V323.82 M151.85,317.26 H154.45 M151.85,323.82 H154.45" stroke="#000" stroke-width="1.4" fill="none"/>
<text transform="translate(149.38,361.20) rotate(-45)" font-size="7.7" font-weight="normal" fill="#474747" text-anchor="end">DMEM+FBS</text>
<path d="M63.20,258.40 V350.70 H165.80" fill="none" stroke="#262626" stroke-width="1.3"/>
<line x1="60.20" y1="350.70" x2="63.20" y2="350.70" stroke="#262626" stroke-width="1"/>
<text x="58.40" y="353.50" font-size="8.3" font-weight="normal" fill="#595959" text-anchor="end">0</text>
<line x1="60.20" y1="337.59" x2="63.20" y2="337.59" stroke="#262626" stroke-width="1"/>
<text x="58.40" y="340.39" font-size="8.3" font-weight="normal" fill="#595959" text-anchor="end">2</text>
<line x1="60.20" y1="324.47" x2="63.20" y2="324.47" stroke="#262626" stroke-width="1"/>
<text x="58.40" y="327.27" font-size="8.3" font-weight="normal" fill="#595959" text-anchor="end">4</text>
<line x1="60.20" y1="311.36" x2="63.20" y2="311.36" stroke="#262626" stroke-width="1"/>
<text x="58.40" y="314.16" font-size="8.3" font-weight="normal" fill="#595959" text-anchor="end">6</text>
<line x1="60.20" y1="298.24" x2="63.20" y2="298.24" stroke="#262626" stroke-width="1"/>
<text x="58.40" y="301.04" font-size="8.3" font-weight="normal" fill="#595959" text-anchor="end">8</text>
<line x1="60.20" y1="285.13" x2="63.20" y2="285.13" stroke="#262626" stroke-width="1"/>
<text x="58.40" y="287.93" font-size="8.3" font-weight="normal" fill="#595959" text-anchor="end">10</text>
<line x1="60.20" y1="272.01" x2="63.20" y2="272.01" stroke="#262626" stroke-width="1"/>
<text x="58.40" y="274.81" font-size="8.3" font-weight="normal" fill="#595959" text-anchor="end">12</text>
<line x1="60.20" y1="258.90" x2="63.20" y2="258.90" stroke="#262626" stroke-width="1"/>
<text x="58.50" y="261.90" font-size="8.3" font-weight="normal" fill="#595959" text-anchor="end">14</text>
<line x1="63.20" y1="350.70" x2="63.20" y2="353.70" stroke="#262626" stroke-width="1"/>
<line x1="97.23" y1="350.70" x2="97.23" y2="353.70" stroke="#262626" stroke-width="1"/>
<line x1="131.27" y1="350.70" x2="131.27" y2="353.70" stroke="#262626" stroke-width="1"/>
<line x1="165.30" y1="350.70" x2="165.30" y2="353.70" stroke="#262626" stroke-width="1"/>
<rect x="175.80" y="314.50" width="4.9" height="4.8" fill="#558ED5" stroke="#3f6fb0" stroke-width="0.6"/>
<rect x="175.80" y="328.90" width="4.9" height="4.8" fill="#D99694" stroke="#b06e6c" stroke-width="0.6"/>
<text x="183.50" y="319.70" font-size="10" font-weight="normal" fill="#262626" text-anchor="start">2 h</text>
<text x="183.30" y="333.60" font-size="10" font-weight="normal" fill="#262626" text-anchor="start">24 h</text>
<text x="115.50" y="258.70" font-size="17" font-weight="bold" fill="#000" text-anchor="middle">(b)</text>
<text transform="translate(45.60,303.50) rotate(-90)" font-size="9.8" font-weight="bold" fill="#000" text-anchor="middle" textLength="78.5" lengthAdjust="spacingAndGlyphs">Quantum yield, %</text>
<rect x="71.08" y="432.07" width="10.24" height="75.13" fill="#558ED5" stroke="#3f6fb0" stroke-width="0.75"/>
<rect x="81.32" y="430.38" width="10.24" height="76.82" fill="#D99694" stroke="#b06e6c" stroke-width="0.75"/>
<path d="M76.20,431.30 V432.83 M74.90,431.30 H77.50 M74.90,432.83 H77.50" stroke="#000" stroke-width="1.4" fill="none"/>
<path d="M86.44,428.85 V431.91 M85.14,428.85 H87.74 M85.14,431.91 H87.74" stroke="#000" stroke-width="1.4" fill="none"/>
<text transform="translate(87.52,517.80) rotate(-45)" font-size="7.7" font-weight="normal" fill="#474747" text-anchor="end">H<tspan font-size="5" dy="1.5">2</tspan><tspan dy="-1.5">O</tspan></text>
<rect x="106.91" y="445.71" width="10.24" height="61.49" fill="#558ED5" stroke="#3f6fb0" stroke-width="0.75"/>
<rect x="117.15" y="446.63" width="10.24" height="60.57" fill="#D99694" stroke="#b06e6c" stroke-width="0.75"/>
<path d="M112.03,444.64 V446.79 M110.73,444.64 H113.33 M110.73,446.79 H113.33" stroke="#000" stroke-width="1.4" fill="none"/>
<path d="M122.27,445.71 V447.55 M120.97,445.71 H123.57 M120.97,447.55 H123.57" stroke="#000" stroke-width="1.4" fill="none"/>
<text transform="translate(118.95,518.20) rotate(-45)" font-size="7.7" font-weight="normal" fill="#474747" text-anchor="end">DMEM</text>
<rect x="142.75" y="450.01" width="10.24" height="57.19" fill="#558ED5" stroke="#3f6fb0" stroke-width="0.75"/>
<rect x="152.98" y="449.70" width="10.24" height="57.50" fill="#D99694" stroke="#b06e6c" stroke-width="0.75"/>
<path d="M147.86,448.17 V451.85 M146.56,448.17 H149.16 M146.56,451.85 H149.16" stroke="#000" stroke-width="1.4" fill="none"/>
<path d="M158.10,447.40 V452.00 M156.80,447.40 H159.40 M156.80,452.00 H159.40" stroke="#000" stroke-width="1.4" fill="none"/>
<text transform="translate(154.18,518.50) rotate(-45)" font-size="7.7" font-weight="normal" fill="#474747" text-anchor="end">DMEM+FBS</text>
<path d="M63.40,414.70 V507.20 H171.40" fill="none" stroke="#262626" stroke-width="1.3"/>
<line x1="60.40" y1="507.20" x2="63.40" y2="507.20" stroke="#262626" stroke-width="1"/>
<text x="55.20" y="510.00" font-size="8.3" font-weight="normal" fill="#595959" text-anchor="end">0</text>
<line x1="60.40" y1="491.87" x2="63.40" y2="491.87" stroke="#262626" stroke-width="1"/>
<text x="55.20" y="494.67" font-size="8.3" font-weight="normal" fill="#595959" text-anchor="end">10</text>
<line x1="60.40" y1="476.53" x2="63.40" y2="476.53" stroke="#262626" stroke-width="1"/>
<text x="55.20" y="479.33" font-size="8.3" font-weight="normal" fill="#595959" text-anchor="end">20</text>
<line x1="60.40" y1="461.20" x2="63.40" y2="461.20" stroke="#262626" stroke-width="1"/>
<text x="55.20" y="464.00" font-size="8.3" font-weight="normal" fill="#595959" text-anchor="end">30</text>
<line x1="60.40" y1="445.87" x2="63.40" y2="445.87" stroke="#262626" stroke-width="1"/>
<text x="55.20" y="448.67" font-size="8.3" font-weight="normal" fill="#595959" text-anchor="end">40</text>
<line x1="60.40" y1="430.53" x2="63.40" y2="430.53" stroke="#262626" stroke-width="1"/>
<text x="55.20" y="433.33" font-size="8.3" font-weight="normal" fill="#595959" text-anchor="end">50</text>
<line x1="60.40" y1="415.20" x2="63.40" y2="415.20" stroke="#262626" stroke-width="1"/>
<text x="55.20" y="418.00" font-size="8.3" font-weight="normal" fill="#595959" text-anchor="end">60</text>
<line x1="63.40" y1="507.20" x2="63.40" y2="510.20" stroke="#262626" stroke-width="1"/>
<line x1="99.23" y1="507.20" x2="99.23" y2="510.20" stroke="#262626" stroke-width="1"/>
<line x1="135.07" y1="507.20" x2="135.07" y2="510.20" stroke="#262626" stroke-width="1"/>
<line x1="170.90" y1="507.20" x2="170.90" y2="510.20" stroke="#262626" stroke-width="1"/>
<rect x="181.80" y="470.70" width="4.9" height="4.8" fill="#558ED5" stroke="#3f6fb0" stroke-width="0.6"/>
<rect x="181.80" y="485.10" width="4.9" height="4.8" fill="#D99694" stroke="#b06e6c" stroke-width="0.6"/>
<text x="189.50" y="476.10" font-size="10" font-weight="normal" fill="#262626" text-anchor="start">2 h</text>
<text x="189.30" y="490.70" font-size="10" font-weight="normal" fill="#262626" text-anchor="start">24 h</text>
<text x="114.90" y="414.10" font-size="17" font-weight="bold" fill="#000" text-anchor="middle">(c)</text>
<text transform="translate(42.40,461.30) rotate(-90)" font-size="9.8" font-weight="bold" fill="#000" text-anchor="middle" textLength="59.8" lengthAdjust="spacingAndGlyphs">PL lifetime, ns</text>
<rect x="289.26" y="268.54" width="9.94" height="82.46" fill="#558ED5" stroke="#3f6fb0" stroke-width="0.75"/>
<rect x="299.20" y="266.48" width="9.94" height="84.52" fill="#D99694" stroke="#b06e6c" stroke-width="0.75"/>
<path d="M294.23,263.39 V273.70 M292.93,263.39 H295.53 M292.93,273.70 H295.53" stroke="#000" stroke-width="1.4" fill="none"/>
<path d="M304.17,261.53 V271.43 M302.87,261.53 H305.47 M302.87,271.43 H305.47" stroke="#000" stroke-width="1.4" fill="none"/>
<text transform="translate(305.60,362.00) rotate(-45)" font-size="7.7" font-weight="normal" fill="#474747" text-anchor="end">H<tspan font-size="5" dy="1.5">2</tspan><tspan dy="-1.5">O</tspan></text>
<rect x="324.06" y="282.29" width="9.94" height="68.71" fill="#558ED5" stroke="#3f6fb0" stroke-width="0.75"/>
<rect x="334.00" y="292.25" width="9.94" height="58.75" fill="#D99694" stroke="#b06e6c" stroke-width="0.75"/>
<path d="M329.03,277.48 V287.10 M327.73,277.48 H330.33 M327.73,287.10 H330.33" stroke="#000" stroke-width="1.4" fill="none"/>
<path d="M338.97,287.23 V297.27 M337.67,287.23 H340.27 M337.67,297.27 H340.27" stroke="#000" stroke-width="1.4" fill="none"/>
<text transform="translate(335.90,361.50) rotate(-45)" font-size="7.7" font-weight="normal" fill="#474747" text-anchor="end">NaCl, 1 M</text>
<rect x="358.86" y="293.14" width="9.94" height="57.86" fill="#558ED5" stroke="#3f6fb0" stroke-width="0.75"/>
<rect x="368.80" y="291.91" width="9.94" height="59.09" fill="#D99694" stroke="#b06e6c" stroke-width="0.75"/>
<path d="M363.83,288.13 V298.16 M362.53,288.13 H365.13 M362.53,298.16 H365.13" stroke="#000" stroke-width="1.4" fill="none"/>
<path d="M373.77,286.75 V297.06 M372.47,286.75 H375.07 M372.47,297.06 H375.07" stroke="#000" stroke-width="1.4" fill="none"/>
<text transform="translate(370.60,361.10) rotate(-45)" font-size="7.7" font-weight="normal" fill="#474747" text-anchor="end">KCl, 1 M</text>
<rect x="393.66" y="285.03" width="9.94" height="65.97" fill="#558ED5" stroke="#3f6fb0" stroke-width="0.75"/>
<rect x="403.60" y="287.78" width="9.94" height="63.22" fill="#D99694" stroke="#b06e6c" stroke-width="0.75"/>
<path d="M398.63,281.39 V288.68 M397.33,281.39 H399.93 M397.33,288.68 H399.93" stroke="#000" stroke-width="1.4" fill="none"/>
<path d="M408.57,284.14 V291.42 M407.27,284.14 H409.87 M407.27,291.42 H409.87" stroke="#000" stroke-width="1.4" fill="none"/>
<text transform="translate(405.40,361.80) rotate(-45)" font-size="7.7" font-weight="normal" fill="#474747" text-anchor="end">CaCl<tspan font-size="5" dy="1.5">2</tspan><tspan dy="-1.5"> , 1 M</tspan></text>
<path d="M281.80,254.30 V351.00 H421.50" fill="none" stroke="#262626" stroke-width="1.3"/>
<line x1="278.80" y1="351.00" x2="281.80" y2="351.00" stroke="#262626" stroke-width="1"/>
<text x="277.60" y="353.80" font-size="8.3" font-weight="normal" fill="#595959" text-anchor="end">0</text>
<line x1="278.80" y1="337.26" x2="281.80" y2="337.26" stroke="#262626" stroke-width="1"/>
<text x="277.60" y="340.06" font-size="8.3" font-weight="normal" fill="#595959" text-anchor="end">2</text>
<line x1="278.80" y1="323.51" x2="281.80" y2="323.51" stroke="#262626" stroke-width="1"/>
<text x="277.60" y="326.31" font-size="8.3" font-weight="normal" fill="#595959" text-anchor="end">4</text>
<line x1="278.80" y1="309.77" x2="281.80" y2="309.77" stroke="#262626" stroke-width="1"/>
<text x="277.60" y="312.57" font-size="8.3" font-weight="normal" fill="#595959" text-anchor="end">6</text>
<line x1="278.80" y1="296.03" x2="281.80" y2="296.03" stroke="#262626" stroke-width="1"/>
<text x="277.60" y="298.83" font-size="8.3" font-weight="normal" fill="#595959" text-anchor="end">8</text>
<line x1="278.80" y1="282.29" x2="281.80" y2="282.29" stroke="#262626" stroke-width="1"/>
<text x="277.60" y="285.09" font-size="8.3" font-weight="normal" fill="#595959" text-anchor="end">10</text>
<line x1="278.80" y1="268.54" x2="281.80" y2="268.54" stroke="#262626" stroke-width="1"/>
<text x="277.60" y="271.34" font-size="8.3" font-weight="normal" fill="#595959" text-anchor="end">12</text>
<line x1="278.80" y1="254.80" x2="281.80" y2="254.80" stroke="#262626" stroke-width="1"/>
<text x="277.60" y="257.60" font-size="8.3" font-weight="normal" fill="#595959" text-anchor="end">14</text>
<line x1="281.80" y1="351.00" x2="281.80" y2="354.00" stroke="#262626" stroke-width="1"/>
<line x1="316.60" y1="351.00" x2="316.60" y2="354.00" stroke="#262626" stroke-width="1"/>
<line x1="351.40" y1="351.00" x2="351.40" y2="354.00" stroke="#262626" stroke-width="1"/>
<line x1="386.20" y1="351.00" x2="386.20" y2="354.00" stroke="#262626" stroke-width="1"/>
<line x1="421.00" y1="351.00" x2="421.00" y2="354.00" stroke="#262626" stroke-width="1"/>
<rect x="431.40" y="310.30" width="4.9" height="4.8" fill="#558ED5" stroke="#3f6fb0" stroke-width="0.6"/>
<rect x="431.40" y="324.70" width="4.9" height="4.8" fill="#D99694" stroke="#b06e6c" stroke-width="0.6"/>
<text x="438.80" y="314.70" font-size="10" font-weight="normal" fill="#262626" text-anchor="start">2 h</text>
<text x="438.90" y="330.10" font-size="10" font-weight="normal" fill="#262626" text-anchor="start">24 h</text>
<text x="336.90" y="257.90" font-size="17" font-weight="bold" fill="#000" text-anchor="middle">(e)</text>
<text transform="translate(265.40,300.80) rotate(-90)" font-size="9.8" font-weight="bold" fill="#000" text-anchor="middle" textLength="78.5" lengthAdjust="spacingAndGlyphs">Quantum yield, %</text>
<rect x="289.73" y="428.35" width="10.44" height="79.05" fill="#558ED5" stroke="#3f6fb0" stroke-width="0.75"/>
<rect x="300.16" y="426.74" width="10.44" height="80.66" fill="#D99694" stroke="#b06e6c" stroke-width="0.75"/>
<path d="M294.94,427.54 V429.15 M293.64,427.54 H296.24 M293.64,429.15 H296.24" stroke="#000" stroke-width="1.4" fill="none"/>
<path d="M305.38,425.13 V428.35 M304.08,425.13 H306.68 M304.08,428.35 H306.68" stroke="#000" stroke-width="1.4" fill="none"/>
<text transform="translate(307.76,517.80) rotate(-45)" font-size="7.7" font-weight="normal" fill="#474747" text-anchor="end">H<tspan font-size="5" dy="1.5">2</tspan><tspan dy="-1.5">O</tspan></text>
<rect x="326.25" y="433.98" width="10.44" height="73.42" fill="#558ED5" stroke="#3f6fb0" stroke-width="0.75"/>
<rect x="336.69" y="439.94" width="10.44" height="67.46" fill="#D99694" stroke="#b06e6c" stroke-width="0.75"/>
<path d="M331.47,433.50 V434.47 M330.17,433.50 H332.77 M330.17,434.47 H332.77" stroke="#000" stroke-width="1.4" fill="none"/>
<path d="M341.91,436.56 V443.32 M340.61,436.56 H343.21 M340.61,443.32 H343.21" stroke="#000" stroke-width="1.4" fill="none"/>
<text transform="translate(338.39,517.50) rotate(-45)" font-size="7.7" font-weight="normal" fill="#474747" text-anchor="end">NaCl, 1 M</text>
<rect x="362.78" y="433.18" width="10.44" height="74.22" fill="#558ED5" stroke="#3f6fb0" stroke-width="0.75"/>
<rect x="373.21" y="431.57" width="10.44" height="75.83" fill="#D99694" stroke="#b06e6c" stroke-width="0.75"/>
<path d="M367.99,432.53 V433.82 M366.69,432.53 H369.29 M366.69,433.82 H369.29" stroke="#000" stroke-width="1.4" fill="none"/>
<path d="M378.43,430.93 V432.21 M377.13,430.93 H379.73 M377.13,432.21 H379.73" stroke="#000" stroke-width="1.4" fill="none"/>
<text transform="translate(374.81,517.50) rotate(-45)" font-size="7.7" font-weight="normal" fill="#474747" text-anchor="end">KCl, 1 M</text>
<rect x="399.30" y="431.57" width="10.44" height="75.83" fill="#558ED5" stroke="#3f6fb0" stroke-width="0.75"/>
<rect x="409.74" y="432.86" width="10.44" height="74.54" fill="#D99694" stroke="#b06e6c" stroke-width="0.75"/>
<path d="M404.52,431.09 V432.05 M403.22,431.09 H405.82 M403.22,432.05 H405.82" stroke="#000" stroke-width="1.4" fill="none"/>
<path d="M414.96,432.37 V433.34 M413.66,432.37 H416.26 M413.66,433.34 H416.26" stroke="#000" stroke-width="1.4" fill="none"/>
<text transform="translate(410.94,518.20) rotate(-45)" font-size="7.7" font-weight="normal" fill="#474747" text-anchor="end">CaCl<tspan font-size="5" dy="1.5">2</tspan><tspan dy="-1.5"> , 1 M</tspan></text>
<path d="M281.90,410.30 V507.40 H428.50" fill="none" stroke="#262626" stroke-width="1.3"/>
<line x1="278.90" y1="507.40" x2="281.90" y2="507.40" stroke="#262626" stroke-width="1"/>
<text x="275.40" y="510.20" font-size="8.3" font-weight="normal" fill="#595959" text-anchor="end">0</text>
<line x1="278.90" y1="491.30" x2="281.90" y2="491.30" stroke="#262626" stroke-width="1"/>
<text x="275.40" y="494.10" font-size="8.3" font-weight="normal" fill="#595959" text-anchor="end">10</text>
<line x1="278.90" y1="475.20" x2="281.90" y2="475.20" stroke="#262626" stroke-width="1"/>
<text x="275.40" y="478.00" font-size="8.3" font-weight="normal" fill="#595959" text-anchor="end">20</text>
<line x1="278.90" y1="459.10" x2="281.90" y2="459.10" stroke="#262626" stroke-width="1"/>
<text x="275.40" y="461.90" font-size="8.3" font-weight="normal" fill="#595959" text-anchor="end">30</text>
<line x1="278.90" y1="443.00" x2="281.90" y2="443.00" stroke="#262626" stroke-width="1"/>
<text x="275.40" y="445.80" font-size="8.3" font-weight="normal" fill="#595959" text-anchor="end">40</text>
<line x1="278.90" y1="426.90" x2="281.90" y2="426.90" stroke="#262626" stroke-width="1"/>
<text x="275.40" y="429.70" font-size="8.3" font-weight="normal" fill="#595959" text-anchor="end">50</text>
<line x1="278.90" y1="410.80" x2="281.90" y2="410.80" stroke="#262626" stroke-width="1"/>
<text x="275.40" y="413.60" font-size="8.3" font-weight="normal" fill="#595959" text-anchor="end">60</text>
<line x1="281.90" y1="507.40" x2="281.90" y2="510.40" stroke="#262626" stroke-width="1"/>
<line x1="318.42" y1="507.40" x2="318.42" y2="510.40" stroke="#262626" stroke-width="1"/>
<line x1="354.95" y1="507.40" x2="354.95" y2="510.40" stroke="#262626" stroke-width="1"/>
<line x1="391.48" y1="507.40" x2="391.48" y2="510.40" stroke="#262626" stroke-width="1"/>
<line x1="428.00" y1="507.40" x2="428.00" y2="510.40" stroke="#262626" stroke-width="1"/>
<rect x="437.50" y="466.50" width="4.9" height="4.8" fill="#558ED5" stroke="#3f6fb0" stroke-width="0.6"/>
<rect x="437.50" y="480.90" width="4.9" height="4.8" fill="#D99694" stroke="#b06e6c" stroke-width="0.6"/>
<text x="445.70" y="471.70" font-size="10" font-weight="normal" fill="#262626" text-anchor="start">2 h</text>
<text x="445.70" y="486.10" font-size="10" font-weight="normal" fill="#262626" text-anchor="start">24 h</text>
<text x="336.70" y="414.20" font-size="17" font-weight="bold" fill="#000" text-anchor="middle">(f)</text>
<text transform="translate(261.20,458.80) rotate(-90)" font-size="9.8" font-weight="bold" fill="#000" text-anchor="middle" textLength="59.6" lengthAdjust="spacingAndGlyphs">PL lifetime, ns</text>
</svg>
</body></html>
